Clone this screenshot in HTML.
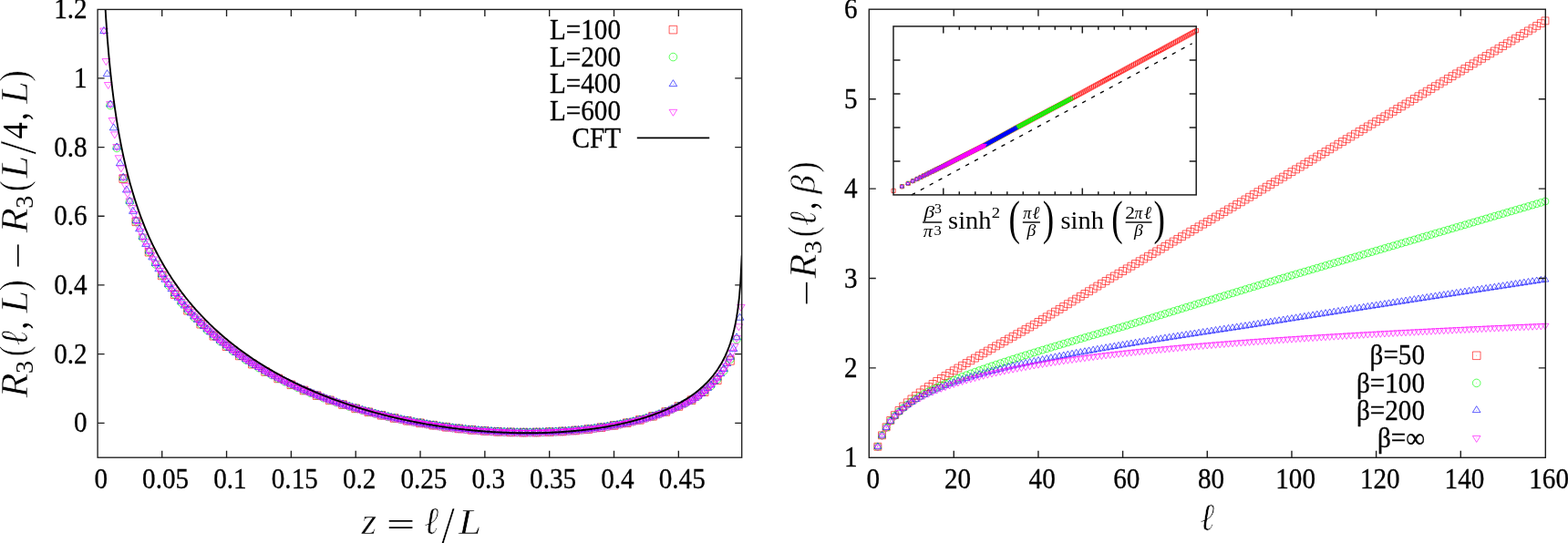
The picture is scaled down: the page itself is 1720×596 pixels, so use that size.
<!DOCTYPE html>
<html lang="en">
<head>
<meta charset="utf-8">
<title>R3 scaling plots</title>
<style>
html, body { margin: 0; padding: 0; background: #fff; }
body { width: 1720px; height: 596px; overflow: hidden; }
svg { display: block; }
</style>
</head>
<body>
<svg width="1720" height="596" viewBox="0 0 1720 596">
<rect width="1720" height="596" fill="#fff"/>
<clipPath id="cl"><rect x="107.1" y="10.4" width="706.6" height="491.8"/></clipPath>
<path d="M130.93 191.86h8.6v8.6h-8.6zM134.98 196.16h0.5M145.09 239.02h8.6v8.6h-8.6zM149.15 243.32h0.5M159.26 272.4h8.6v8.6h-8.6zM163.31 276.7h0.5M173.43 298.12h8.6v8.6h-8.6zM177.48 302.42h0.5M187.59 318.97h8.6v8.6h-8.6zM191.64 323.27h0.5M201.75 336.43h8.6v8.6h-8.6zM205.81 340.73h0.5M215.92 351.39h8.6v8.6h-8.6zM219.97 355.69h0.5M230.08 364.42h8.6v8.6h-8.6zM234.13 368.72h0.5M244.25 375.92h8.6v8.6h-8.6zM248.3 380.22h0.5M258.42 386.16h8.6v8.6h-8.6zM262.47 390.46h0.5M272.58 395.34h8.6v8.6h-8.6zM276.63 399.64h0.5M286.75 403.63h8.6v8.6h-8.6zM290.8 407.93h0.5M300.91 411.14h8.6v8.6h-8.6zM304.96 415.44h0.5M315.07 417.97h8.6v8.6h-8.6zM319.12 422.27h0.5M329.24 424.19h8.6v8.6h-8.6zM333.29 428.49h0.5M343.41 429.86h8.6v8.6h-8.6zM347.46 434.16h0.5M357.57 435.04h8.6v8.6h-8.6zM361.62 439.34h0.5M371.73 439.76h8.6v8.6h-8.6zM375.78 444.06h0.5M385.9 444.06h8.6v8.6h-8.6zM389.95 448.36h0.5M400.06 447.96h8.6v8.6h-8.6zM404.12 452.26h0.5M414.23 451.49h8.6v8.6h-8.6zM418.28 455.79h0.5M428.4 454.66h8.6v8.6h-8.6zM432.45 458.96h0.5M442.56 457.49h8.6v8.6h-8.6zM446.61 461.79h0.5M456.72 460h8.6v8.6h-8.6zM460.77 464.3h0.5M470.89 462.37h8.6v8.6h-8.6zM474.94 466.67h0.5M485.06 464.42h8.6v8.6h-8.6zM489.11 468.72h0.5M499.22 466.14h8.6v8.6h-8.6zM503.27 470.44h0.5M513.38 467.55h8.6v8.6h-8.6zM517.43 471.85h0.5M527.55 468.64h8.6v8.6h-8.6zM531.6 472.94h0.5M541.72 469.52h8.6v8.6h-8.6zM545.76 473.82h0.5M555.88 470.07h8.6v8.6h-8.6zM559.93 474.37h0.5M570.05 470.31h8.6v8.6h-8.6zM574.1 474.61h0.5M584.21 470.21h8.6v8.6h-8.6zM588.26 474.51h0.5M598.38 469.77h8.6v8.6h-8.6zM602.42 474.07h0.5M612.54 469.14h8.6v8.6h-8.6zM616.59 473.44h0.5M626.71 468.15h8.6v8.6h-8.6zM630.75 472.45h0.5M640.87 466.75h8.6v8.6h-8.6zM644.92 471.05h0.5M655.04 464.91h8.6v8.6h-8.6zM659.09 469.21h0.5M669.2 462.58h8.6v8.6h-8.6zM673.25 466.88h0.5M683.37 459.89h8.6v8.6h-8.6zM687.41 464.19h0.5M697.53 456.58h8.6v8.6h-8.6zM701.58 460.88h0.5M711.7 452.52h8.6v8.6h-8.6zM715.75 456.82h0.5M725.86 447.7h8.6v8.6h-8.6zM729.91 452h0.5M740.03 441.68h8.6v8.6h-8.6zM744.08 445.98h0.5M754.19 434.89h8.6v8.6h-8.6zM758.24 439.19h0.5M768.36 425.78h8.6v8.6h-8.6zM772.4 430.08h0.5M782.52 412.9h8.6v8.6h-8.6zM786.57 417.2h0.5M796.69 391.64h8.6v8.6h-8.6zM800.74 395.94h0.5" fill="none" stroke="#ff0000" stroke-width="0.64"/>
<path d="M116.77 115.6a4.3 4.3 0 1 0 8.6 0a4.3 4.3 0 1 0 -8.6 0zM120.82 115.6h0.5M123.85 162.48a4.3 4.3 0 1 0 8.6 0a4.3 4.3 0 1 0 -8.6 0zM127.9 162.48h0.5M130.93 195.81a4.3 4.3 0 1 0 8.6 0a4.3 4.3 0 1 0 -8.6 0zM134.98 195.81h0.5M138.01 221.77a4.3 4.3 0 1 0 8.6 0a4.3 4.3 0 1 0 -8.6 0zM142.06 221.77h0.5M145.09 242.99a4.3 4.3 0 1 0 8.6 0a4.3 4.3 0 1 0 -8.6 0zM149.15 242.99h0.5M152.18 260.91a4.3 4.3 0 1 0 8.6 0a4.3 4.3 0 1 0 -8.6 0zM156.23 260.91h0.5M159.26 276.38a4.3 4.3 0 1 0 8.6 0a4.3 4.3 0 1 0 -8.6 0zM163.31 276.38h0.5M166.34 289.99a4.3 4.3 0 1 0 8.6 0a4.3 4.3 0 1 0 -8.6 0zM170.39 289.99h0.5M173.43 302.12a4.3 4.3 0 1 0 8.6 0a4.3 4.3 0 1 0 -8.6 0zM177.48 302.12h0.5M180.51 313.05a4.3 4.3 0 1 0 8.6 0a4.3 4.3 0 1 0 -8.6 0zM184.56 313.05h0.5M187.59 322.98a4.3 4.3 0 1 0 8.6 0a4.3 4.3 0 1 0 -8.6 0zM191.64 322.98h0.5M194.67 332.08a4.3 4.3 0 1 0 8.6 0a4.3 4.3 0 1 0 -8.6 0zM198.72 332.08h0.5M201.75 340.45a4.3 4.3 0 1 0 8.6 0a4.3 4.3 0 1 0 -8.6 0zM205.81 340.45h0.5M208.84 348.21a4.3 4.3 0 1 0 8.6 0a4.3 4.3 0 1 0 -8.6 0zM212.89 348.21h0.5M215.92 355.43a4.3 4.3 0 1 0 8.6 0a4.3 4.3 0 1 0 -8.6 0zM219.97 355.43h0.5M223 362.17a4.3 4.3 0 1 0 8.6 0a4.3 4.3 0 1 0 -8.6 0zM227.05 362.17h0.5M230.08 368.48a4.3 4.3 0 1 0 8.6 0a4.3 4.3 0 1 0 -8.6 0zM234.13 368.48h0.5M237.17 374.41a4.3 4.3 0 1 0 8.6 0a4.3 4.3 0 1 0 -8.6 0zM241.22 374.41h0.5M244.25 379.99a4.3 4.3 0 1 0 8.6 0a4.3 4.3 0 1 0 -8.6 0zM248.3 379.99h0.5M251.33 385.26a4.3 4.3 0 1 0 8.6 0a4.3 4.3 0 1 0 -8.6 0zM255.38 385.26h0.5M258.42 390.24a4.3 4.3 0 1 0 8.6 0a4.3 4.3 0 1 0 -8.6 0zM262.47 390.24h0.5M265.5 394.97a4.3 4.3 0 1 0 8.6 0a4.3 4.3 0 1 0 -8.6 0zM269.55 394.97h0.5M272.58 399.45a4.3 4.3 0 1 0 8.6 0a4.3 4.3 0 1 0 -8.6 0zM276.63 399.45h0.5M279.66 403.7a4.3 4.3 0 1 0 8.6 0a4.3 4.3 0 1 0 -8.6 0zM283.71 403.7h0.5M286.75 407.75a4.3 4.3 0 1 0 8.6 0a4.3 4.3 0 1 0 -8.6 0zM290.8 407.75h0.5M293.83 411.6a4.3 4.3 0 1 0 8.6 0a4.3 4.3 0 1 0 -8.6 0zM297.88 411.6h0.5M300.91 415.28a4.3 4.3 0 1 0 8.6 0a4.3 4.3 0 1 0 -8.6 0zM304.96 415.28h0.5M307.99 418.78a4.3 4.3 0 1 0 8.6 0a4.3 4.3 0 1 0 -8.6 0zM312.04 418.78h0.5M315.07 422.12a4.3 4.3 0 1 0 8.6 0a4.3 4.3 0 1 0 -8.6 0zM319.12 422.12h0.5M322.16 425.31a4.3 4.3 0 1 0 8.6 0a4.3 4.3 0 1 0 -8.6 0zM326.21 425.31h0.5M329.24 428.35a4.3 4.3 0 1 0 8.6 0a4.3 4.3 0 1 0 -8.6 0zM333.29 428.35h0.5M336.32 431.26a4.3 4.3 0 1 0 8.6 0a4.3 4.3 0 1 0 -8.6 0zM340.37 431.26h0.5M343.41 434.04a4.3 4.3 0 1 0 8.6 0a4.3 4.3 0 1 0 -8.6 0zM347.46 434.04h0.5M350.49 436.7a4.3 4.3 0 1 0 8.6 0a4.3 4.3 0 1 0 -8.6 0zM354.54 436.7h0.5M357.57 439.23a4.3 4.3 0 1 0 8.6 0a4.3 4.3 0 1 0 -8.6 0zM361.62 439.23h0.5M364.65 441.66a4.3 4.3 0 1 0 8.6 0a4.3 4.3 0 1 0 -8.6 0zM368.7 441.66h0.5M371.73 443.97a4.3 4.3 0 1 0 8.6 0a4.3 4.3 0 1 0 -8.6 0zM375.78 443.97h0.5M378.82 446.18a4.3 4.3 0 1 0 8.6 0a4.3 4.3 0 1 0 -8.6 0zM382.87 446.18h0.5M385.9 448.28a4.3 4.3 0 1 0 8.6 0a4.3 4.3 0 1 0 -8.6 0zM389.95 448.28h0.5M392.98 450.29a4.3 4.3 0 1 0 8.6 0a4.3 4.3 0 1 0 -8.6 0zM397.03 450.29h0.5M400.06 452.2a4.3 4.3 0 1 0 8.6 0a4.3 4.3 0 1 0 -8.6 0zM404.12 452.2h0.5M407.15 454.01a4.3 4.3 0 1 0 8.6 0a4.3 4.3 0 1 0 -8.6 0zM411.2 454.01h0.5M414.23 455.74a4.3 4.3 0 1 0 8.6 0a4.3 4.3 0 1 0 -8.6 0zM418.28 455.74h0.5M421.31 457.38a4.3 4.3 0 1 0 8.6 0a4.3 4.3 0 1 0 -8.6 0zM425.36 457.38h0.5M428.4 458.93a4.3 4.3 0 1 0 8.6 0a4.3 4.3 0 1 0 -8.6 0zM432.45 458.93h0.5M435.48 460.39a4.3 4.3 0 1 0 8.6 0a4.3 4.3 0 1 0 -8.6 0zM439.53 460.39h0.5M442.56 461.78a4.3 4.3 0 1 0 8.6 0a4.3 4.3 0 1 0 -8.6 0zM446.61 461.78h0.5M449.64 463.08a4.3 4.3 0 1 0 8.6 0a4.3 4.3 0 1 0 -8.6 0zM453.69 463.08h0.5M456.72 464.3a4.3 4.3 0 1 0 8.6 0a4.3 4.3 0 1 0 -8.6 0zM460.77 464.3h0.5M463.81 465.53a4.3 4.3 0 1 0 8.6 0a4.3 4.3 0 1 0 -8.6 0zM467.86 465.53h0.5M470.89 466.67a4.3 4.3 0 1 0 8.6 0a4.3 4.3 0 1 0 -8.6 0zM474.94 466.67h0.5M477.97 467.74a4.3 4.3 0 1 0 8.6 0a4.3 4.3 0 1 0 -8.6 0zM482.02 467.74h0.5M485.06 468.72a4.3 4.3 0 1 0 8.6 0a4.3 4.3 0 1 0 -8.6 0zM489.11 468.72h0.5M492.14 469.62a4.3 4.3 0 1 0 8.6 0a4.3 4.3 0 1 0 -8.6 0zM496.19 469.62h0.5M499.22 470.44a4.3 4.3 0 1 0 8.6 0a4.3 4.3 0 1 0 -8.6 0zM503.27 470.44h0.5M506.3 471.19a4.3 4.3 0 1 0 8.6 0a4.3 4.3 0 1 0 -8.6 0zM510.35 471.19h0.5M513.38 471.85a4.3 4.3 0 1 0 8.6 0a4.3 4.3 0 1 0 -8.6 0zM517.43 471.85h0.5M520.47 472.44a4.3 4.3 0 1 0 8.6 0a4.3 4.3 0 1 0 -8.6 0zM524.52 472.44h0.5M527.55 472.94a4.3 4.3 0 1 0 8.6 0a4.3 4.3 0 1 0 -8.6 0zM531.6 472.94h0.5M534.63 473.42a4.3 4.3 0 1 0 8.6 0a4.3 4.3 0 1 0 -8.6 0zM538.68 473.42h0.5M541.72 473.82a4.3 4.3 0 1 0 8.6 0a4.3 4.3 0 1 0 -8.6 0zM545.76 473.82h0.5M548.8 474.13a4.3 4.3 0 1 0 8.6 0a4.3 4.3 0 1 0 -8.6 0zM552.85 474.13h0.5M555.88 474.37a4.3 4.3 0 1 0 8.6 0a4.3 4.3 0 1 0 -8.6 0zM559.93 474.37h0.5M562.96 474.53a4.3 4.3 0 1 0 8.6 0a4.3 4.3 0 1 0 -8.6 0zM567.01 474.53h0.5M570.05 474.61a4.3 4.3 0 1 0 8.6 0a4.3 4.3 0 1 0 -8.6 0zM574.1 474.61h0.5M577.13 474.6a4.3 4.3 0 1 0 8.6 0a4.3 4.3 0 1 0 -8.6 0zM581.18 474.6h0.5M584.21 474.51a4.3 4.3 0 1 0 8.6 0a4.3 4.3 0 1 0 -8.6 0zM588.26 474.51h0.5M591.29 474.34a4.3 4.3 0 1 0 8.6 0a4.3 4.3 0 1 0 -8.6 0zM595.34 474.34h0.5M598.38 474.07a4.3 4.3 0 1 0 8.6 0a4.3 4.3 0 1 0 -8.6 0zM602.42 474.07h0.5M605.46 473.8a4.3 4.3 0 1 0 8.6 0a4.3 4.3 0 1 0 -8.6 0zM609.51 473.8h0.5M612.54 473.44a4.3 4.3 0 1 0 8.6 0a4.3 4.3 0 1 0 -8.6 0zM616.59 473.44h0.5M619.62 472.99a4.3 4.3 0 1 0 8.6 0a4.3 4.3 0 1 0 -8.6 0zM623.67 472.99h0.5M626.71 472.45a4.3 4.3 0 1 0 8.6 0a4.3 4.3 0 1 0 -8.6 0zM630.75 472.45h0.5M633.79 471.8a4.3 4.3 0 1 0 8.6 0a4.3 4.3 0 1 0 -8.6 0zM637.84 471.8h0.5M640.87 471.05a4.3 4.3 0 1 0 8.6 0a4.3 4.3 0 1 0 -8.6 0zM644.92 471.05h0.5M647.95 470.18a4.3 4.3 0 1 0 8.6 0a4.3 4.3 0 1 0 -8.6 0zM652 470.18h0.5M655.04 469.21a4.3 4.3 0 1 0 8.6 0a4.3 4.3 0 1 0 -8.6 0zM659.09 469.21h0.5M662.12 468.11a4.3 4.3 0 1 0 8.6 0a4.3 4.3 0 1 0 -8.6 0zM666.17 468.11h0.5M669.2 466.88a4.3 4.3 0 1 0 8.6 0a4.3 4.3 0 1 0 -8.6 0zM673.25 466.88h0.5M676.28 465.61a4.3 4.3 0 1 0 8.6 0a4.3 4.3 0 1 0 -8.6 0zM680.33 465.61h0.5M683.37 464.19a4.3 4.3 0 1 0 8.6 0a4.3 4.3 0 1 0 -8.6 0zM687.41 464.19h0.5M690.45 462.62a4.3 4.3 0 1 0 8.6 0a4.3 4.3 0 1 0 -8.6 0zM694.5 462.62h0.5M697.53 460.88a4.3 4.3 0 1 0 8.6 0a4.3 4.3 0 1 0 -8.6 0zM701.58 460.88h0.5M704.61 458.95a4.3 4.3 0 1 0 8.6 0a4.3 4.3 0 1 0 -8.6 0zM708.66 458.95h0.5M711.7 456.82a4.3 4.3 0 1 0 8.6 0a4.3 4.3 0 1 0 -8.6 0zM715.75 456.82h0.5M718.78 454.54a4.3 4.3 0 1 0 8.6 0a4.3 4.3 0 1 0 -8.6 0zM722.83 454.54h0.5M725.86 452a4.3 4.3 0 1 0 8.6 0a4.3 4.3 0 1 0 -8.6 0zM729.91 452h0.5M732.94 449.16a4.3 4.3 0 1 0 8.6 0a4.3 4.3 0 1 0 -8.6 0zM736.99 449.16h0.5M740.03 445.98a4.3 4.3 0 1 0 8.6 0a4.3 4.3 0 1 0 -8.6 0zM744.08 445.98h0.5M747.11 442.81a4.3 4.3 0 1 0 8.6 0a4.3 4.3 0 1 0 -8.6 0zM751.16 442.81h0.5M754.19 439.19a4.3 4.3 0 1 0 8.6 0a4.3 4.3 0 1 0 -8.6 0zM758.24 439.19h0.5M761.27 435a4.3 4.3 0 1 0 8.6 0a4.3 4.3 0 1 0 -8.6 0zM765.32 435h0.5M768.36 429.7a4.3 4.3 0 1 0 8.6 0a4.3 4.3 0 1 0 -8.6 0zM772.4 429.7h0.5M775.44 423.56a4.3 4.3 0 1 0 8.6 0a4.3 4.3 0 1 0 -8.6 0zM779.49 423.56h0.5M782.52 416.06a4.3 4.3 0 1 0 8.6 0a4.3 4.3 0 1 0 -8.6 0zM786.57 416.06h0.5M789.6 406.9a4.3 4.3 0 1 0 8.6 0a4.3 4.3 0 1 0 -8.6 0zM793.65 406.9h0.5M796.69 394.05a4.3 4.3 0 1 0 8.6 0a4.3 4.3 0 1 0 -8.6 0zM800.74 394.05h0.5M803.77 372.53a4.3 4.3 0 1 0 8.6 0a4.3 4.3 0 1 0 -8.6 0zM807.82 372.53h0.5" fill="none" stroke="#00ff00" stroke-width="0.64"/>
<path d="M113.98 29.47l-4.3 6.97h8.6zM113.73 34.28h0.5M117.52 76.7l-4.3 6.97h8.6zM117.27 81.52h0.5M121.07 110.06l-4.3 6.97h8.6zM120.82 114.88h0.5M124.61 135.87l-4.3 6.97h8.6zM124.36 140.68h0.5M128.15 156.95l-4.3 6.97h8.6zM127.9 161.77h0.5M131.69 174.8l-4.3 6.97h8.6zM131.44 179.62h0.5M135.23 190.3l-4.3 6.97h8.6zM134.98 195.12h0.5M138.77 204l-4.3 6.97h8.6zM138.52 208.82h0.5M142.31 216.27l-4.3 6.97h8.6zM142.06 221.09h0.5M145.85 227.37l-4.3 6.97h8.6zM145.6 232.19h0.5M149.4 237.51l-4.3 6.97h8.6zM149.15 242.33h0.5M152.94 246.82l-4.3 6.97h8.6zM152.69 251.64h0.5M156.48 255.44l-4.3 6.97h8.6zM156.23 260.26h0.5M160.02 263.45l-4.3 6.97h8.6zM159.77 268.27h0.5M163.56 270.93l-4.3 6.97h8.6zM163.31 275.75h0.5M167.1 277.95l-4.3 6.97h8.6zM166.85 282.77h0.5M170.64 284.55l-4.3 6.97h8.6zM170.39 289.37h0.5M174.18 290.79l-4.3 6.97h8.6zM173.93 295.61h0.5M177.73 296.7l-4.3 6.97h8.6zM177.48 301.51h0.5M181.27 302.3l-4.3 6.97h8.6zM181.02 307.12h0.5M184.81 307.64l-4.3 6.97h8.6zM184.56 312.46h0.5M188.35 312.73l-4.3 6.97h8.6zM188.1 317.54h0.5M191.89 317.59l-4.3 6.97h8.6zM191.64 322.4h0.5M195.43 322.24l-4.3 6.97h8.6zM195.18 327.06h0.5M198.97 326.7l-4.3 6.97h8.6zM198.72 331.52h0.5M202.51 330.98l-4.3 6.97h8.6zM202.26 335.8h0.5M206.06 335.09l-4.3 6.97h8.6zM205.81 339.91h0.5M209.6 339.05l-4.3 6.97h8.6zM209.35 343.87h0.5M213.14 342.87l-4.3 6.97h8.6zM212.89 347.68h0.5M216.68 346.55l-4.3 6.97h8.6zM216.43 351.36h0.5M220.22 350.1l-4.3 6.97h8.6zM219.97 354.91h0.5M223.76 353.53l-4.3 6.97h8.6zM223.51 358.35h0.5M227.3 356.85l-4.3 6.97h8.6zM227.05 361.67h0.5M230.84 360.06l-4.3 6.97h8.6zM230.59 364.88h0.5M234.38 363.18l-4.3 6.97h8.6zM234.13 367.99h0.5M237.93 366.19l-4.3 6.97h8.6zM237.68 371.01h0.5M241.47 369.12l-4.3 6.97h8.6zM241.22 373.94h0.5M245.01 371.96l-4.3 6.97h8.6zM244.76 376.78h0.5M248.55 374.72l-4.3 6.97h8.6zM248.3 379.54h0.5M252.09 377.4l-4.3 6.97h8.6zM251.84 382.22h0.5M255.63 380.01l-4.3 6.97h8.6zM255.38 384.82h0.5M259.17 382.54l-4.3 6.97h8.6zM258.92 387.36h0.5M262.72 385l-4.3 6.97h8.6zM262.47 389.82h0.5M266.26 387.4l-4.3 6.97h8.6zM266.01 392.22h0.5M269.8 389.74l-4.3 6.97h8.6zM269.55 394.56h0.5M273.34 392.02l-4.3 6.97h8.6zM273.09 396.83h0.5M276.88 394.24l-4.3 6.97h8.6zM276.63 399.05h0.5M280.42 396.4l-4.3 6.97h8.6zM280.17 401.21h0.5M283.96 398.51l-4.3 6.97h8.6zM283.71 403.32h0.5M287.5 400.56l-4.3 6.97h8.6zM287.25 405.38h0.5M291.05 402.57l-4.3 6.97h8.6zM290.8 407.39h0.5M294.59 404.53l-4.3 6.97h8.6zM294.34 409.34h0.5M298.13 406.44l-4.3 6.97h8.6zM297.88 411.26h0.5M301.67 408.31l-4.3 6.97h8.6zM301.42 413.12h0.5M305.21 410.13l-4.3 6.97h8.6zM304.96 414.94h0.5M308.75 411.91l-4.3 6.97h8.6zM308.5 416.72h0.5M312.29 413.64l-4.3 6.97h8.6zM312.04 418.46h0.5M315.83 415.34l-4.3 6.97h8.6zM315.58 420.16h0.5M319.38 417l-4.3 6.97h8.6zM319.12 421.82h0.5M322.92 418.62l-4.3 6.97h8.6zM322.67 423.44h0.5M326.46 420.21l-4.3 6.97h8.6zM326.21 425.02h0.5M330 421.75l-4.3 6.97h8.6zM329.75 426.57h0.5M333.54 423.27l-4.3 6.97h8.6zM333.29 428.08h0.5M337.08 424.74l-4.3 6.97h8.6zM336.83 429.56h0.5M340.62 426.19l-4.3 6.97h8.6zM340.37 431.01h0.5M344.16 427.6l-4.3 6.97h8.6zM343.91 432.42h0.5M347.71 428.98l-4.3 6.97h8.6zM347.46 433.8h0.5M351.25 430.34l-4.3 6.97h8.6zM351 435.15h0.5M354.79 431.65l-4.3 6.97h8.6zM354.54 436.47h0.5M358.33 432.95l-4.3 6.97h8.6zM358.08 437.76h0.5M361.87 434.21l-4.3 6.97h8.6zM361.62 439.02h0.5M365.41 435.44l-4.3 6.97h8.6zM365.16 440.25h0.5M368.95 436.64l-4.3 6.97h8.6zM368.7 441.46h0.5M372.49 437.82l-4.3 6.97h8.6zM372.24 442.64h0.5M376.03 438.97l-4.3 6.97h8.6zM375.78 443.79h0.5M379.58 440.1l-4.3 6.97h8.6zM379.33 444.91h0.5M383.12 441.19l-4.3 6.97h8.6zM382.87 446.01h0.5M386.66 442.27l-4.3 6.97h8.6zM386.41 447.08h0.5M390.2 443.31l-4.3 6.97h8.6zM389.95 448.13h0.5M393.74 444.34l-4.3 6.97h8.6zM393.49 449.15h0.5M397.28 445.33l-4.3 6.97h8.6zM397.03 450.15h0.5M400.82 446.31l-4.3 6.97h8.6zM400.57 451.12h0.5M404.37 447.26l-4.3 6.97h8.6zM404.12 452.08h0.5M407.91 448.19l-4.3 6.97h8.6zM407.66 453h0.5M411.45 449.09l-4.3 6.97h8.6zM411.2 453.91h0.5M414.99 449.97l-4.3 6.97h8.6zM414.74 454.79h0.5M418.53 450.83l-4.3 6.97h8.6zM418.28 455.65h0.5M422.07 451.67l-4.3 6.97h8.6zM421.82 456.49h0.5M425.61 452.49l-4.3 6.97h8.6zM425.36 457.3h0.5M429.15 453.28l-4.3 6.97h8.6zM428.9 458.1h0.5M432.7 454.05l-4.3 6.97h8.6zM432.45 458.87h0.5M436.24 454.8l-4.3 6.97h8.6zM435.99 459.62h0.5M439.78 455.53l-4.3 6.97h8.6zM439.53 460.35h0.5M443.32 456.24l-4.3 6.97h8.6zM443.07 461.06h0.5M446.86 456.93l-4.3 6.97h8.6zM446.61 461.75h0.5M450.4 457.6l-4.3 6.97h8.6zM450.15 462.42h0.5M453.94 458.25l-4.3 6.97h8.6zM453.69 463.06h0.5M457.48 458.88l-4.3 6.97h8.6zM457.23 463.69h0.5M461.02 459.48l-4.3 6.97h8.6zM460.77 464.3h0.5M464.57 460.11l-4.3 6.97h8.6zM464.32 464.92h0.5M468.11 460.71l-4.3 6.97h8.6zM467.86 465.53h0.5M471.65 461.3l-4.3 6.97h8.6zM471.4 466.11h0.5M475.19 461.86l-4.3 6.97h8.6zM474.94 466.67h0.5M478.73 462.4l-4.3 6.97h8.6zM478.48 467.22h0.5M482.27 462.92l-4.3 6.97h8.6zM482.02 467.74h0.5M485.81 463.42l-4.3 6.97h8.6zM485.56 468.24h0.5M489.36 463.9l-4.3 6.97h8.6zM489.11 468.72h0.5M492.9 464.36l-4.3 6.97h8.6zM492.65 469.18h0.5M496.44 464.81l-4.3 6.97h8.6zM496.19 469.62h0.5M499.98 465.23l-4.3 6.97h8.6zM499.73 470.04h0.5M503.52 465.63l-4.3 6.97h8.6zM503.27 470.44h0.5M507.06 466.01l-4.3 6.97h8.6zM506.81 470.83h0.5M510.6 466.37l-4.3 6.97h8.6zM510.35 471.19h0.5M514.14 466.71l-4.3 6.97h8.6zM513.89 471.53h0.5M517.68 467.04l-4.3 6.97h8.6zM517.43 471.85h0.5M521.23 467.34l-4.3 6.97h8.6zM520.98 472.15h0.5M524.77 467.62l-4.3 6.97h8.6zM524.52 472.44h0.5M528.31 467.88l-4.3 6.97h8.6zM528.06 472.7h0.5M531.85 468.13l-4.3 6.97h8.6zM531.6 472.94h0.5M535.39 468.38l-4.3 6.97h8.6zM535.14 473.19h0.5M538.93 468.6l-4.3 6.97h8.6zM538.68 473.42h0.5M542.47 468.81l-4.3 6.97h8.6zM542.22 473.63h0.5M546.01 469l-4.3 6.97h8.6zM545.76 473.82h0.5M549.56 469.17l-4.3 6.97h8.6zM549.31 473.98h0.5M553.1 469.32l-4.3 6.97h8.6zM552.85 474.13h0.5M556.64 469.45l-4.3 6.97h8.6zM556.39 474.26h0.5M560.18 469.56l-4.3 6.97h8.6zM559.93 474.37h0.5M563.72 469.65l-4.3 6.97h8.6zM563.47 474.46h0.5M567.26 469.71l-4.3 6.97h8.6zM567.01 474.53h0.5M570.8 469.76l-4.3 6.97h8.6zM570.55 474.58h0.5M574.35 469.79l-4.3 6.97h8.6zM574.1 474.61h0.5M577.89 469.8l-4.3 6.97h8.6zM577.64 474.61h0.5M581.43 469.79l-4.3 6.97h8.6zM581.18 474.6h0.5M584.97 469.75l-4.3 6.97h8.6zM584.72 474.57h0.5M588.51 469.7l-4.3 6.97h8.6zM588.26 474.51h0.5M592.05 469.62l-4.3 6.97h8.6zM591.8 474.43h0.5M595.59 469.52l-4.3 6.97h8.6zM595.34 474.34h0.5M599.13 469.4l-4.3 6.97h8.6zM598.88 474.21h0.5M602.67 469.26l-4.3 6.97h8.6zM602.42 474.07h0.5M606.22 469.13l-4.3 6.97h8.6zM605.97 473.95h0.5M609.76 468.99l-4.3 6.97h8.6zM609.51 473.8h0.5M613.3 468.82l-4.3 6.97h8.6zM613.05 473.63h0.5M616.84 468.63l-4.3 6.97h8.6zM616.59 473.44h0.5M620.38 468.41l-4.3 6.97h8.6zM620.13 473.23h0.5M623.92 468.18l-4.3 6.97h8.6zM623.67 472.99h0.5M627.46 467.92l-4.3 6.97h8.6zM627.21 472.73h0.5M631 467.63l-4.3 6.97h8.6zM630.75 472.45h0.5M634.55 467.32l-4.3 6.97h8.6zM634.3 472.13h0.5M638.09 466.98l-4.3 6.97h8.6zM637.84 471.8h0.5M641.63 466.62l-4.3 6.97h8.6zM641.38 471.43h0.5M645.17 466.23l-4.3 6.97h8.6zM644.92 471.05h0.5M648.71 465.81l-4.3 6.97h8.6zM648.46 470.63h0.5M652.25 465.37l-4.3 6.97h8.6zM652 470.18h0.5M655.79 464.89l-4.3 6.97h8.6zM655.54 469.71h0.5M659.34 464.39l-4.3 6.97h8.6zM659.09 469.21h0.5M662.88 463.86l-4.3 6.97h8.6zM662.63 468.67h0.5M666.42 463.29l-4.3 6.97h8.6zM666.17 468.11h0.5M669.96 462.7l-4.3 6.97h8.6zM669.71 467.51h0.5M673.5 462.07l-4.3 6.97h8.6zM673.25 466.88h0.5M677.04 461.45l-4.3 6.97h8.6zM676.79 466.26h0.5M680.58 460.79l-4.3 6.97h8.6zM680.33 465.61h0.5M684.12 460.1l-4.3 6.97h8.6zM683.87 464.92h0.5M687.66 459.38l-4.3 6.97h8.6zM687.41 464.19h0.5M691.21 458.61l-4.3 6.97h8.6zM690.96 463.43h0.5M694.75 457.81l-4.3 6.97h8.6zM694.5 462.62h0.5M698.29 456.96l-4.3 6.97h8.6zM698.04 461.77h0.5M701.83 456.07l-4.3 6.97h8.6zM701.58 460.88h0.5M705.37 455.13l-4.3 6.97h8.6zM705.12 459.94h0.5M708.91 454.14l-4.3 6.97h8.6zM708.66 458.95h0.5M712.45 453.1l-4.3 6.97h8.6zM712.2 457.91h0.5M716 452l-4.3 6.97h8.6zM715.75 456.82h0.5M719.54 450.89l-4.3 6.97h8.6zM719.29 455.71h0.5M723.08 449.72l-4.3 6.97h8.6zM722.83 454.54h0.5M726.62 448.49l-4.3 6.97h8.6zM726.37 453.31h0.5M730.16 447.19l-4.3 6.97h8.6zM729.91 452h0.5M733.7 445.81l-4.3 6.97h8.6zM733.45 450.62h0.5M737.24 444.35l-4.3 6.97h8.6zM736.99 449.16h0.5M740.78 442.8l-4.3 6.97h8.6zM740.53 447.62h0.5M744.33 441.16l-4.3 6.97h8.6zM744.08 445.98h0.5M747.87 439.63l-4.3 6.97h8.6zM747.62 444.44h0.5M751.41 437.99l-4.3 6.97h8.6zM751.16 442.81h0.5M754.95 436.24l-4.3 6.97h8.6zM754.7 441.06h0.5M758.49 434.37l-4.3 6.97h8.6zM758.24 439.19h0.5M762.03 432.36l-4.3 6.97h8.6zM761.78 437.17h0.5M765.57 430.18l-4.3 6.97h8.6zM765.32 435h0.5M769.11 427.45l-4.3 6.97h8.6zM768.86 432.26h0.5M772.65 424.5l-4.3 6.97h8.6zM772.4 429.32h0.5M776.2 421.39l-4.3 6.97h8.6zM775.95 426.2h0.5M779.74 417.99l-4.3 6.97h8.6zM779.49 422.81h0.5M783.28 414.26l-4.3 6.97h8.6zM783.03 419.07h0.5M786.82 410.11l-4.3 6.97h8.6zM786.57 414.93h0.5M790.36 405.66l-4.3 6.97h8.6zM790.11 410.48h0.5M793.9 400.57l-4.3 6.97h8.6zM793.65 405.38h0.5M797.44 394.59l-4.3 6.97h8.6zM797.19 399.41h0.5M800.99 387.34l-4.3 6.97h8.6zM800.74 392.16h0.5M804.53 378.42l-4.3 6.97h8.6zM804.28 383.24h0.5M808.07 365.82l-4.3 6.97h8.6zM807.82 370.64h0.5M811.61 344.26l-4.3 6.97h8.6zM811.36 349.08h0.5" fill="none" stroke="#0000ff" stroke-width="0.64"/>
<path d="M113.98 37.99l-4.3 -6.97h8.6zM113.73 33.17h0.5M116.34 71.53l-4.3 -6.97h8.6zM116.09 66.72h0.5M118.7 97.47l-4.3 -6.97h8.6zM118.45 92.65h0.5M121.07 118.6l-4.3 -6.97h8.6zM120.82 113.79h0.5M123.43 136.44l-4.3 -6.97h8.6zM123.18 131.63h0.5M125.79 151.89l-4.3 -6.97h8.6zM125.54 147.07h0.5M128.15 165.51l-4.3 -6.97h8.6zM127.9 160.7h0.5M130.51 177.72l-4.3 -6.97h8.6zM130.26 172.9h0.5M132.87 188.78l-4.3 -6.97h8.6zM132.62 183.96h0.5M135.23 198.89l-4.3 -6.97h8.6zM134.98 194.07h0.5M137.59 208.2l-4.3 -6.97h8.6zM137.34 203.39h0.5M139.95 216.84l-4.3 -6.97h8.6zM139.7 212.02h0.5M142.31 224.88l-4.3 -6.97h8.6zM142.06 220.06h0.5M144.67 232.41l-4.3 -6.97h8.6zM144.42 227.59h0.5M147.03 239.48l-4.3 -6.97h8.6zM146.78 234.66h0.5M149.4 246.14l-4.3 -6.97h8.6zM149.15 241.33h0.5M151.76 252.44l-4.3 -6.97h8.6zM151.51 247.63h0.5M154.12 258.42l-4.3 -6.97h8.6zM153.87 253.6h0.5M156.48 264.1l-4.3 -6.97h8.6zM156.23 259.28h0.5M158.84 269.51l-4.3 -6.97h8.6zM158.59 264.69h0.5M161.2 274.67l-4.3 -6.97h8.6zM160.95 269.85h0.5M163.56 279.61l-4.3 -6.97h8.6zM163.31 274.79h0.5M165.92 284.34l-4.3 -6.97h8.6zM165.67 279.53h0.5M168.28 288.89l-4.3 -6.97h8.6zM168.03 284.07h0.5M170.64 293.26l-4.3 -6.97h8.6zM170.39 288.44h0.5M173 297.46l-4.3 -6.97h8.6zM172.75 292.64h0.5M175.36 301.51l-4.3 -6.97h8.6zM175.11 296.7h0.5M177.73 305.42l-4.3 -6.97h8.6zM177.48 300.61h0.5M180.09 309.2l-4.3 -6.97h8.6zM179.84 304.38h0.5M182.45 312.85l-4.3 -6.97h8.6zM182.2 308.04h0.5M184.81 316.39l-4.3 -6.97h8.6zM184.56 311.57h0.5M187.17 319.81l-4.3 -6.97h8.6zM186.92 315h0.5M189.53 323.13l-4.3 -6.97h8.6zM189.28 318.32h0.5M191.89 326.36l-4.3 -6.97h8.6zM191.64 321.54h0.5M194.25 329.49l-4.3 -6.97h8.6zM194 324.67h0.5M196.61 332.53l-4.3 -6.97h8.6zM196.36 327.72h0.5M198.97 335.49l-4.3 -6.97h8.6zM198.72 330.68h0.5M201.33 338.37l-4.3 -6.97h8.6zM201.08 333.56h0.5M203.69 341.18l-4.3 -6.97h8.6zM203.44 336.36h0.5M206.06 343.91l-4.3 -6.97h8.6zM205.81 339.09h0.5M208.42 346.57l-4.3 -6.97h8.6zM208.17 341.76h0.5M210.78 349.17l-4.3 -6.97h8.6zM210.53 344.35h0.5M213.14 351.7l-4.3 -6.97h8.6zM212.89 346.89h0.5M215.5 354.18l-4.3 -6.97h8.6zM215.25 349.36h0.5M217.86 356.6l-4.3 -6.97h8.6zM217.61 351.78h0.5M220.22 358.96l-4.3 -6.97h8.6zM219.97 354.14h0.5M222.58 361.27l-4.3 -6.97h8.6zM222.33 356.45h0.5M224.94 363.53l-4.3 -6.97h8.6zM224.69 358.71h0.5M227.3 365.73l-4.3 -6.97h8.6zM227.05 360.92h0.5M229.66 367.9l-4.3 -6.97h8.6zM229.41 363.08h0.5M232.02 370.01l-4.3 -6.97h8.6zM231.77 365.2h0.5M234.38 372.08l-4.3 -6.97h8.6zM234.13 367.27h0.5M236.75 374.11l-4.3 -6.97h8.6zM236.5 369.3h0.5M239.11 376.1l-4.3 -6.97h8.6zM238.86 371.28h0.5M241.47 378.05l-4.3 -6.97h8.6zM241.22 373.23h0.5M243.83 379.96l-4.3 -6.97h8.6zM243.58 375.14h0.5M246.19 381.83l-4.3 -6.97h8.6zM245.94 377.02h0.5M248.55 383.67l-4.3 -6.97h8.6zM248.3 378.85h0.5M250.91 385.47l-4.3 -6.97h8.6zM250.66 380.66h0.5M253.27 387.24l-4.3 -6.97h8.6zM253.02 382.43h0.5M255.63 388.98l-4.3 -6.97h8.6zM255.38 384.16h0.5M257.99 390.68l-4.3 -6.97h8.6zM257.74 385.87h0.5M260.35 392.36l-4.3 -6.97h8.6zM260.1 387.54h0.5M262.72 394l-4.3 -6.97h8.6zM262.47 389.18h0.5M265.08 395.62l-4.3 -6.97h8.6zM264.83 390.8h0.5M267.44 397.2l-4.3 -6.97h8.6zM267.19 392.39h0.5M269.8 398.76l-4.3 -6.97h8.6zM269.55 393.94h0.5M272.16 400.29l-4.3 -6.97h8.6zM271.91 395.48h0.5M274.52 401.8l-4.3 -6.97h8.6zM274.27 396.98h0.5M276.88 403.28l-4.3 -6.97h8.6zM276.63 398.46h0.5M279.24 404.73l-4.3 -6.97h8.6zM278.99 399.92h0.5M281.6 406.16l-4.3 -6.97h8.6zM281.35 401.35h0.5M283.96 407.57l-4.3 -6.97h8.6zM283.71 402.76h0.5M286.32 408.96l-4.3 -6.97h8.6zM286.07 404.14h0.5M288.68 410.32l-4.3 -6.97h8.6zM288.43 405.5h0.5M291.05 411.66l-4.3 -6.97h8.6zM290.8 406.84h0.5M293.41 412.98l-4.3 -6.97h8.6zM293.16 408.16h0.5M295.77 414.27l-4.3 -6.97h8.6zM295.52 409.46h0.5M298.13 415.55l-4.3 -6.97h8.6zM297.88 410.73h0.5M300.49 416.81l-4.3 -6.97h8.6zM300.24 411.99h0.5M302.85 418.04l-4.3 -6.97h8.6zM302.6 413.23h0.5M305.21 419.26l-4.3 -6.97h8.6zM304.96 414.44h0.5M307.57 420.46l-4.3 -6.97h8.6zM307.32 415.64h0.5M309.93 421.64l-4.3 -6.97h8.6zM309.68 416.82h0.5M312.29 422.8l-4.3 -6.97h8.6zM312.04 417.98h0.5M314.65 423.94l-4.3 -6.97h8.6zM314.4 419.13h0.5M317.01 425.07l-4.3 -6.97h8.6zM316.76 420.25h0.5M319.38 426.18l-4.3 -6.97h8.6zM319.12 421.36h0.5M321.74 427.27l-4.3 -6.97h8.6zM321.49 422.45h0.5M324.1 428.35l-4.3 -6.97h8.6zM323.85 423.53h0.5M326.46 429.41l-4.3 -6.97h8.6zM326.21 424.59h0.5M328.82 430.45l-4.3 -6.97h8.6zM328.57 425.63h0.5M331.18 431.48l-4.3 -6.97h8.6zM330.93 426.66h0.5M333.54 432.49l-4.3 -6.97h8.6zM333.29 427.67h0.5M335.9 433.49l-4.3 -6.97h8.6zM335.65 428.67h0.5M338.26 434.47l-4.3 -6.97h8.6zM338.01 429.65h0.5M340.62 435.44l-4.3 -6.97h8.6zM340.37 430.62h0.5M342.98 436.39l-4.3 -6.97h8.6zM342.73 431.57h0.5M345.34 437.33l-4.3 -6.97h8.6zM345.09 432.51h0.5M347.71 438.25l-4.3 -6.97h8.6zM347.46 433.44h0.5M350.07 439.16l-4.3 -6.97h8.6zM349.82 434.35h0.5M352.43 440.06l-4.3 -6.97h8.6zM352.18 435.25h0.5M354.79 440.95l-4.3 -6.97h8.6zM354.54 436.13h0.5M357.15 441.82l-4.3 -6.97h8.6zM356.9 437h0.5M359.51 442.68l-4.3 -6.97h8.6zM359.26 437.86h0.5M361.87 443.52l-4.3 -6.97h8.6zM361.62 438.7h0.5M364.23 444.35l-4.3 -6.97h8.6zM363.98 439.54h0.5M366.59 445.17l-4.3 -6.97h8.6zM366.34 440.36h0.5M368.95 445.98l-4.3 -6.97h8.6zM368.7 441.16h0.5M371.31 446.78l-4.3 -6.97h8.6zM371.06 441.96h0.5M373.67 447.56l-4.3 -6.97h8.6zM373.42 442.74h0.5M376.03 448.33l-4.3 -6.97h8.6zM375.78 443.51h0.5M378.4 449.09l-4.3 -6.97h8.6zM378.15 444.27h0.5M380.76 449.84l-4.3 -6.97h8.6zM380.51 445.02h0.5M383.12 450.58l-4.3 -6.97h8.6zM382.87 445.76h0.5M385.48 451.3l-4.3 -6.97h8.6zM385.23 446.48h0.5M387.84 452.02l-4.3 -6.97h8.6zM387.59 447.2h0.5M390.2 452.72l-4.3 -6.97h8.6zM389.95 447.9h0.5M392.56 453.41l-4.3 -6.97h8.6zM392.31 448.59h0.5M394.92 454.09l-4.3 -6.97h8.6zM394.67 449.28h0.5M397.28 454.76l-4.3 -6.97h8.6zM397.03 449.95h0.5M399.64 455.42l-4.3 -6.97h8.6zM399.39 450.61h0.5M402 456.07l-4.3 -6.97h8.6zM401.75 451.26h0.5M404.37 456.71l-4.3 -6.97h8.6zM404.12 451.89h0.5M406.73 457.34l-4.3 -6.97h8.6zM406.48 452.52h0.5M409.09 457.96l-4.3 -6.97h8.6zM408.84 453.14h0.5M411.45 458.56l-4.3 -6.97h8.6zM411.2 453.75h0.5M413.81 459.16l-4.3 -6.97h8.6zM413.56 454.35h0.5M416.17 459.75l-4.3 -6.97h8.6zM415.92 454.93h0.5M418.53 460.33l-4.3 -6.97h8.6zM418.28 455.51h0.5M420.89 460.9l-4.3 -6.97h8.6zM420.64 456.08h0.5M423.25 461.46l-4.3 -6.97h8.6zM423 456.64h0.5M425.61 462l-4.3 -6.97h8.6zM425.36 457.19h0.5M427.97 462.54l-4.3 -6.97h8.6zM427.72 457.73h0.5M430.33 463.07l-4.3 -6.97h8.6zM430.08 458.26h0.5M432.7 463.59l-4.3 -6.97h8.6zM432.45 458.78h0.5M435.06 464.1l-4.3 -6.97h8.6zM434.81 459.29h0.5M437.42 464.61l-4.3 -6.97h8.6zM437.17 459.79h0.5M439.78 465.1l-4.3 -6.97h8.6zM439.53 460.28h0.5M442.14 465.58l-4.3 -6.97h8.6zM441.89 460.76h0.5M444.5 466.05l-4.3 -6.97h8.6zM444.25 461.24h0.5M446.86 466.52l-4.3 -6.97h8.6zM446.61 461.7h0.5M449.22 466.97l-4.3 -6.97h8.6zM448.97 462.16h0.5M451.58 467.42l-4.3 -6.97h8.6zM451.33 462.6h0.5M453.94 467.86l-4.3 -6.97h8.6zM453.69 463.04h0.5M456.3 468.29l-4.3 -6.97h8.6zM456.05 463.47h0.5M458.66 468.71l-4.3 -6.97h8.6zM458.41 463.89h0.5M461.02 469.12l-4.3 -6.97h8.6zM460.77 464.3h0.5M463.39 469.53l-4.3 -6.97h8.6zM463.14 464.72h0.5M465.75 469.94l-4.3 -6.97h8.6zM465.5 465.13h0.5M468.11 470.34l-4.3 -6.97h8.6zM467.86 465.53h0.5M470.47 470.74l-4.3 -6.97h8.6zM470.22 465.92h0.5M472.83 471.12l-4.3 -6.97h8.6zM472.58 466.3h0.5M475.19 471.49l-4.3 -6.97h8.6zM474.94 466.67h0.5M477.55 471.85l-4.3 -6.97h8.6zM477.3 467.04h0.5M479.91 472.21l-4.3 -6.97h8.6zM479.66 467.39h0.5M482.27 472.55l-4.3 -6.97h8.6zM482.02 467.74h0.5M484.63 472.89l-4.3 -6.97h8.6zM484.38 468.07h0.5M486.99 473.22l-4.3 -6.97h8.6zM486.74 468.4h0.5M489.36 473.54l-4.3 -6.97h8.6zM489.11 468.72h0.5M491.72 473.85l-4.3 -6.97h8.6zM491.47 469.03h0.5M494.08 474.15l-4.3 -6.97h8.6zM493.83 469.33h0.5M496.44 474.44l-4.3 -6.97h8.6zM496.19 469.62h0.5M498.8 474.72l-4.3 -6.97h8.6zM498.55 469.9h0.5M501.16 475l-4.3 -6.97h8.6zM500.91 470.18h0.5M503.52 475.26l-4.3 -6.97h8.6zM503.27 470.44h0.5M505.88 475.52l-4.3 -6.97h8.6zM505.63 470.7h0.5M508.24 475.76l-4.3 -6.97h8.6zM507.99 470.95h0.5M510.6 476l-4.3 -6.97h8.6zM510.35 471.19h0.5M512.96 476.23l-4.3 -6.97h8.6zM512.71 471.42h0.5M515.32 476.46l-4.3 -6.97h8.6zM515.07 471.64h0.5M517.68 476.67l-4.3 -6.97h8.6zM517.43 471.85h0.5M520.05 476.87l-4.3 -6.97h8.6zM519.8 472.06h0.5M522.41 477.07l-4.3 -6.97h8.6zM522.16 472.25h0.5M524.77 477.25l-4.3 -6.97h8.6zM524.52 472.44h0.5M527.13 477.43l-4.3 -6.97h8.6zM526.88 472.62h0.5M529.49 477.6l-4.3 -6.97h8.6zM529.24 472.78h0.5M531.85 477.76l-4.3 -6.97h8.6zM531.6 472.94h0.5M534.21 477.93l-4.3 -6.97h8.6zM533.96 473.11h0.5M536.57 478.09l-4.3 -6.97h8.6zM536.32 473.27h0.5M538.93 478.24l-4.3 -6.97h8.6zM538.68 473.42h0.5M541.29 478.38l-4.3 -6.97h8.6zM541.04 473.56h0.5M543.65 478.51l-4.3 -6.97h8.6zM543.4 473.69h0.5M546.01 478.63l-4.3 -6.97h8.6zM545.76 473.82h0.5M548.38 478.75l-4.3 -6.97h8.6zM548.13 473.93h0.5M550.74 478.85l-4.3 -6.97h8.6zM550.49 474.04h0.5M553.1 478.95l-4.3 -6.97h8.6zM552.85 474.13h0.5M555.46 479.04l-4.3 -6.97h8.6zM555.21 474.22h0.5M557.82 479.12l-4.3 -6.97h8.6zM557.57 474.3h0.5M560.18 479.19l-4.3 -6.97h8.6zM559.93 474.37h0.5M562.54 479.25l-4.3 -6.97h8.6zM562.29 474.43h0.5M564.9 479.3l-4.3 -6.97h8.6zM564.65 474.49h0.5M567.26 479.35l-4.3 -6.97h8.6zM567.01 474.53h0.5M569.62 479.38l-4.3 -6.97h8.6zM569.37 474.56h0.5M571.98 479.41l-4.3 -6.97h8.6zM571.73 474.59h0.5M574.35 479.42l-4.3 -6.97h8.6zM574.1 474.61h0.5M576.71 479.43l-4.3 -6.97h8.6zM576.46 474.61h0.5M579.07 479.43l-4.3 -6.97h8.6zM578.82 474.61h0.5M581.43 479.42l-4.3 -6.97h8.6zM581.18 474.6h0.5M583.79 479.4l-4.3 -6.97h8.6zM583.54 474.58h0.5M586.15 479.37l-4.3 -6.97h8.6zM585.9 474.55h0.5M588.51 479.33l-4.3 -6.97h8.6zM588.26 474.51h0.5M590.87 479.28l-4.3 -6.97h8.6zM590.62 474.46h0.5M593.23 479.22l-4.3 -6.97h8.6zM592.98 474.4h0.5M595.59 479.15l-4.3 -6.97h8.6zM595.34 474.34h0.5M597.95 479.07l-4.3 -6.97h8.6zM597.7 474.26h0.5M600.31 478.99l-4.3 -6.97h8.6zM600.06 474.17h0.5M602.67 478.89l-4.3 -6.97h8.6zM602.42 474.07h0.5M605.04 478.81l-4.3 -6.97h8.6zM604.79 473.99h0.5M607.4 478.72l-4.3 -6.97h8.6zM607.15 473.9h0.5M609.76 478.62l-4.3 -6.97h8.6zM609.51 473.8h0.5M612.12 478.51l-4.3 -6.97h8.6zM611.87 473.69h0.5M614.48 478.39l-4.3 -6.97h8.6zM614.23 473.57h0.5M616.84 478.26l-4.3 -6.97h8.6zM616.59 473.44h0.5M619.2 478.12l-4.3 -6.97h8.6zM618.95 473.3h0.5M621.56 477.97l-4.3 -6.97h8.6zM621.31 473.15h0.5M623.92 477.81l-4.3 -6.97h8.6zM623.67 472.99h0.5M626.28 477.64l-4.3 -6.97h8.6zM626.03 472.82h0.5M628.64 477.45l-4.3 -6.97h8.6zM628.39 472.64h0.5M631 477.26l-4.3 -6.97h8.6zM630.75 472.45h0.5M633.37 477.06l-4.3 -6.97h8.6zM633.12 472.24h0.5M635.73 476.84l-4.3 -6.97h8.6zM635.48 472.02h0.5M638.09 476.61l-4.3 -6.97h8.6zM637.84 471.8h0.5M640.45 476.37l-4.3 -6.97h8.6zM640.2 471.56h0.5M642.81 476.12l-4.3 -6.97h8.6zM642.56 471.31h0.5M645.17 475.86l-4.3 -6.97h8.6zM644.92 471.05h0.5M647.53 475.59l-4.3 -6.97h8.6zM647.28 470.77h0.5M649.89 475.3l-4.3 -6.97h8.6zM649.64 470.48h0.5M652.25 475l-4.3 -6.97h8.6zM652 470.18h0.5M654.61 474.69l-4.3 -6.97h8.6zM654.36 469.87h0.5M656.97 474.36l-4.3 -6.97h8.6zM656.72 469.55h0.5M659.34 474.02l-4.3 -6.97h8.6zM659.09 469.21h0.5M661.7 473.67l-4.3 -6.97h8.6zM661.45 468.86h0.5M664.06 473.31l-4.3 -6.97h8.6zM663.81 468.49h0.5M666.42 472.92l-4.3 -6.97h8.6zM666.17 468.11h0.5M668.78 472.53l-4.3 -6.97h8.6zM668.53 467.71h0.5M671.14 472.12l-4.3 -6.97h8.6zM670.89 467.31h0.5M673.5 471.7l-4.3 -6.97h8.6zM673.25 466.88h0.5M675.86 471.29l-4.3 -6.97h8.6zM675.61 466.47h0.5M678.22 470.86l-4.3 -6.97h8.6zM677.97 466.05h0.5M680.58 470.43l-4.3 -6.97h8.6zM680.33 465.61h0.5M682.94 469.97l-4.3 -6.97h8.6zM682.69 465.15h0.5M685.3 469.5l-4.3 -6.97h8.6zM685.05 464.68h0.5M687.66 469.01l-4.3 -6.97h8.6zM687.41 464.19h0.5M690.03 468.5l-4.3 -6.97h8.6zM689.78 463.69h0.5M692.39 467.98l-4.3 -6.97h8.6zM692.14 463.16h0.5M694.75 467.44l-4.3 -6.97h8.6zM694.5 462.62h0.5M697.11 466.88l-4.3 -6.97h8.6zM696.86 462.06h0.5M699.47 466.3l-4.3 -6.97h8.6zM699.22 461.48h0.5M701.83 465.7l-4.3 -6.97h8.6zM701.58 460.88h0.5M704.19 465.08l-4.3 -6.97h8.6zM703.94 460.26h0.5M706.55 464.43l-4.3 -6.97h8.6zM706.3 459.62h0.5M708.91 463.77l-4.3 -6.97h8.6zM708.66 458.95h0.5M711.27 463.08l-4.3 -6.97h8.6zM711.02 458.27h0.5M713.63 462.37l-4.3 -6.97h8.6zM713.38 457.55h0.5M716 461.63l-4.3 -6.97h8.6zM715.75 456.82h0.5M718.36 460.9l-4.3 -6.97h8.6zM718.11 456.09h0.5M720.72 460.14l-4.3 -6.97h8.6zM720.47 455.33h0.5M723.08 459.36l-4.3 -6.97h8.6zM722.83 454.54h0.5M725.44 458.54l-4.3 -6.97h8.6zM725.19 453.73h0.5M727.8 457.7l-4.3 -6.97h8.6zM727.55 452.88h0.5M730.16 456.82l-4.3 -6.97h8.6zM729.91 452h0.5M732.52 455.91l-4.3 -6.97h8.6zM732.27 451.09h0.5M734.88 454.96l-4.3 -6.97h8.6zM734.63 450.15h0.5M737.24 453.98l-4.3 -6.97h8.6zM736.99 449.16h0.5M739.6 452.96l-4.3 -6.97h8.6zM739.35 448.14h0.5M741.96 451.9l-4.3 -6.97h8.6zM741.71 447.08h0.5M744.33 450.79l-4.3 -6.97h8.6zM744.08 445.98h0.5M746.69 449.78l-4.3 -6.97h8.6zM746.44 444.97h0.5M749.05 448.73l-4.3 -6.97h8.6zM748.8 443.91h0.5M751.41 447.62l-4.3 -6.97h8.6zM751.16 442.81h0.5M753.77 446.47l-4.3 -6.97h8.6zM753.52 441.66h0.5M756.13 445.27l-4.3 -6.97h8.6zM755.88 440.45h0.5M758.49 444.01l-4.3 -6.97h8.6zM758.24 439.19h0.5M760.85 442.68l-4.3 -6.97h8.6zM760.6 437.86h0.5M763.21 441.28l-4.3 -6.97h8.6zM762.96 436.46h0.5M765.57 439.81l-4.3 -6.97h8.6zM765.32 435h0.5M767.93 438.01l-4.3 -6.97h8.6zM767.68 433.19h0.5M770.29 436.12l-4.3 -6.97h8.6zM770.04 431.31h0.5M772.65 434.14l-4.3 -6.97h8.6zM772.4 429.32h0.5M775.02 432.09l-4.3 -6.97h8.6zM774.77 427.27h0.5M777.38 429.92l-4.3 -6.97h8.6zM777.13 425.11h0.5M779.74 427.62l-4.3 -6.97h8.6zM779.49 422.81h0.5M782.1 425.18l-4.3 -6.97h8.6zM781.85 420.36h0.5M784.46 422.56l-4.3 -6.97h8.6zM784.21 417.74h0.5M786.82 419.74l-4.3 -6.97h8.6zM786.57 414.93h0.5M789.18 416.84l-4.3 -6.97h8.6zM788.93 412.03h0.5M791.54 413.68l-4.3 -6.97h8.6zM791.29 408.86h0.5M793.9 410.2l-4.3 -6.97h8.6zM793.65 405.38h0.5M796.26 406.33l-4.3 -6.97h8.6zM796.01 401.52h0.5M798.62 401.98l-4.3 -6.97h8.6zM798.37 397.16h0.5M800.99 396.98l-4.3 -6.97h8.6zM800.74 392.16h0.5M803.35 391.32l-4.3 -6.97h8.6zM803.1 386.51h0.5M805.71 384.39l-4.3 -6.97h8.6zM805.46 379.58h0.5M808.07 375.45l-4.3 -6.97h8.6zM807.82 370.64h0.5M810.43 362.84l-4.3 -6.97h8.6zM810.18 358.03h0.5M812.79 341.32l-4.3 -6.97h8.6zM812.54 336.5h0.5" fill="none" stroke="#ff00ff" stroke-width="0.64"/>
<path d="M109.39 -204.32L110.78 -116.9L112.17 -65.76L113.56 -29.47L114.95 -1.33L116.33 21.66L117.72 41.1L119.11 57.94L120.5 72.79L121.89 86.07L123.28 98.08L124.67 109.05L126.06 119.13L127.45 128.47L128.84 137.16L130.22 145.29L131.61 152.92L133 160.11L134.39 166.92L135.78 173.37L137.17 179.51L138.56 185.36L139.95 190.95L141.34 196.3L142.72 201.42L144.11 206.35L145.5 211.09L146.89 215.65L148.28 220.06L149.67 224.31L151.06 228.42L152.45 232.4L153.84 236.25L155.23 239.99L156.62 243.62L158 247.14L159.39 250.56L160.78 253.9L162.17 257.14L163.56 260.3L164.98 263.38L166.39 266.39L167.81 269.32L169.23 272.18L170.64 274.98L172.06 277.72L173.48 280.39L174.89 283.01L176.31 285.57L177.73 288.07L179.14 290.53L180.56 292.93L181.97 295.29L183.39 297.61L184.81 299.88L186.22 302.1L187.64 304.29L189.06 306.43L190.47 308.54L191.89 310.61L193.31 312.64L194.72 314.64L196.14 316.61L197.56 318.54L198.97 320.45L200.39 322.32L201.81 324.16L203.22 325.97L204.64 327.75L206.06 329.51L207.47 331.24L208.89 332.94L210.3 334.62L211.72 336.28L213.14 337.91L214.55 339.52L215.97 341.1L217.39 342.66L218.8 344.2L220.22 345.72L221.64 347.22L223.05 348.7L224.47 350.16L225.89 351.6L227.3 353.02L228.72 354.43L230.14 355.81L231.55 357.18L232.97 358.53L234.38 359.86L235.8 361.18L237.22 362.48L238.63 363.77L240.05 365.04L241.47 366.29L242.88 367.53L244.3 368.76L245.72 369.97L247.13 371.17L248.55 372.35L249.97 373.52L251.38 374.68L252.8 375.82L254.22 376.95L255.63 378.07L257.05 379.18L258.47 380.27L259.88 381.35L261.3 382.42L262.72 383.48L264.13 384.53L265.55 385.56L266.96 386.59L268.38 387.6L269.8 388.61L271.21 389.6L272.63 390.59L274.05 391.56L275.46 392.52L276.88 393.48L278.3 394.42L279.71 395.35L281.13 396.28L282.55 397.19L283.96 398.1L285.38 399L286.8 399.89L288.21 400.77L289.63 401.64L291.05 402.5L292.46 403.35L293.88 404.2L295.29 405.04L296.71 405.87L298.13 406.69L299.54 407.5L300.96 408.31L302.38 409.11L303.79 409.9L305.21 410.68L306.63 411.46L308.04 412.23L309.46 412.99L310.88 413.75L312.29 414.49L313.71 415.23L315.13 415.97L316.54 416.7L317.96 417.42L319.38 418.13L320.79 418.84L322.21 419.54L323.62 420.23L325.04 420.92L326.46 421.6L327.87 422.28L329.29 422.95L330.71 423.61L332.12 424.27L333.54 424.92L334.96 425.56L336.37 426.2L337.79 426.83L339.21 427.46L340.62 428.08L342.04 428.7L343.46 429.31L344.87 429.92L346.29 430.52L347.71 431.11L349.12 431.7L350.54 432.29L351.95 432.86L353.37 433.44L354.79 434.01L356.2 434.57L357.62 435.13L359.04 435.68L360.45 436.23L361.87 436.77L363.29 437.31L364.7 437.84L366.12 438.37L367.54 438.89L368.95 439.41L370.37 439.93L371.79 440.44L373.2 440.94L374.62 441.44L376.03 441.94L377.45 442.43L378.87 442.92L380.28 443.4L381.7 443.87L383.12 444.35L384.53 444.82L385.95 445.28L387.37 445.74L388.78 446.2L390.2 446.65L391.62 447.1L393.03 447.54L394.45 447.98L395.87 448.41L397.28 448.84L398.7 449.27L400.12 449.69L401.53 450.11L402.95 450.53L404.37 450.94L405.78 451.34L407.2 451.74L408.61 452.14L410.03 452.54L411.45 452.93L412.86 453.32L414.28 453.7L415.7 454.08L417.11 454.45L418.53 454.82L419.95 455.19L421.36 455.56L422.78 455.92L424.2 456.27L425.61 456.63L427.03 456.98L428.45 457.32L429.86 457.66L431.28 458L432.7 458.34L434.11 458.67L435.53 459L436.94 459.32L438.36 459.64L439.78 459.96L441.19 460.27L442.61 460.58L444.03 460.89L445.44 461.19L446.86 461.49L448.28 461.79L449.69 462.08L451.11 462.37L452.53 462.65L453.94 462.94L455.36 463.22L456.78 463.49L458.19 463.77L459.61 464.03L461.02 464.3L462.44 464.56L463.86 464.82L465.27 465.08L466.69 465.33L468.11 465.58L469.52 465.83L470.94 466.07L472.36 466.31L473.77 466.54L475.19 466.78L476.61 467.01L478.02 467.23L479.44 467.46L480.86 467.68L482.27 467.89L483.69 468.11L485.11 468.32L486.52 468.53L487.94 468.73L489.36 468.93L490.77 469.13L492.19 469.32L493.6 469.52L495.02 469.7L496.44 469.89L497.85 470.07L499.27 470.25L500.69 470.43L502.1 470.6L503.52 470.77L504.94 470.94L506.35 471.1L507.77 471.26L509.19 471.42L510.6 471.57L512.02 471.72L513.44 471.87L514.85 472.02L516.27 472.16L517.68 472.3L519.1 472.43L520.52 472.56L521.93 472.69L523.35 472.82L524.77 472.94L526.18 473.06L527.6 473.18L529.02 473.29L530.43 473.4L531.85 473.51L533.27 473.62L534.68 473.72L536.1 473.82L537.52 473.91L538.93 474L540.35 474.09L541.77 474.18L543.18 474.26L544.6 474.34L546.01 474.42L547.43 474.49L548.85 474.56L550.26 474.63L551.68 474.69L553.1 474.75L554.51 474.81L555.93 474.86L557.35 474.92L558.76 474.96L560.18 475.01L561.6 475.05L563.01 475.09L564.43 475.12L565.85 475.16L567.26 475.19L568.68 475.21L570.1 475.23L571.51 475.25L572.93 475.27L574.35 475.28L575.76 475.29L577.18 475.3L578.59 475.3L580.01 475.3L581.43 475.3L582.84 475.29L584.26 475.28L585.68 475.26L587.09 475.25L588.51 475.23L589.93 475.2L591.34 475.17L592.76 475.14L594.18 475.11L595.59 475.07L597.01 475.03L598.43 474.98L599.84 474.94L601.26 474.88L602.68 474.83L604.09 474.77L605.51 474.71L606.92 474.64L608.34 474.57L609.76 474.5L611.17 474.42L612.59 474.34L614.01 474.25L615.42 474.16L616.84 474.07L618.26 473.98L619.67 473.88L621.09 473.77L622.51 473.66L623.92 473.55L625.34 473.44L626.76 473.32L628.17 473.19L629.59 473.07L631 472.93L632.42 472.8L633.84 472.66L635.25 472.51L636.67 472.37L638.09 472.21L639.5 472.06L640.92 471.9L642.34 471.73L643.75 471.56L645.17 471.39L646.59 471.21L648 471.02L649.42 470.84L650.84 470.64L652.25 470.44L653.67 470.24L655.09 470.04L656.5 469.82L657.92 469.61L659.34 469.39L660.75 469.16L662.17 468.93L663.58 468.69L665 468.45L666.42 468.2L667.83 467.95L669.25 467.69L670.67 467.43L672.08 467.16L673.5 466.88L674.92 466.6L676.33 466.31L677.75 466.02L679.17 465.72L680.58 465.42L682 465.11L683.42 464.79L684.83 464.47L686.25 464.14L687.67 463.8L689.08 463.46L690.5 463.11L691.91 462.75L693.33 462.39L694.75 462.02L696.16 461.64L697.58 461.26L699 460.86L700.41 460.46L701.83 460.05L703.25 459.64L704.66 459.21L706.08 458.78L707.5 458.34L708.91 457.89L710.33 457.43L711.75 456.96L713.16 456.48L714.58 455.99L716 455.49L717.41 454.99L718.83 454.47L720.24 453.94L721.66 453.4L723.08 452.85L724.49 452.29L725.91 451.72L727.33 451.13L728.74 450.53L730.16 449.92L731.58 449.3L732.99 448.66L734.41 448.01L735.83 447.35L737.24 446.67L738.66 445.97L740.08 445.26L741.49 444.53L742.91 443.79L744.33 443.03L745.74 442.25L747.16 441.45L748.57 440.63L749.99 439.79L751.41 438.93L752.82 438.04L754.24 437.14L755.66 436.21L757.07 435.25L758.49 434.27L759.91 433.26L761.32 432.22L762.74 431.15L764.16 430.05L765.57 428.92L766.99 427.75L768.41 426.54L769.82 425.29L771.24 424L772.65 422.66L774.07 421.28L775.49 419.84L776.9 418.35L778.32 416.8L779.74 415.19L781.15 413.5L782.57 411.75L783.99 409.91L785.4 407.98L786.82 405.96L788.24 403.83L789.65 401.58L791.07 399.2L792.49 396.68L793.9 393.99L795.32 391.1L796.74 388.01L798.15 384.66L799.57 381.02L800.99 377.02L802.4 372.61L803.82 367.67L805.23 362.06L806.65 355.59L808.07 347.93L809.48 338.56L810.9 326.47L812.32 309.42L813.73 280.28" fill="none" stroke="#000" stroke-width="1.9" stroke-linejoin="round" clip-path="url(#cl)"/>
<path d="M177.73 502.2v-7.5M177.73 10.4v7.5M248.55 502.2v-7.5M248.55 10.4v7.5M319.38 502.2v-7.5M319.38 10.4v7.5M390.2 502.2v-7.5M390.2 10.4v7.5M461.02 502.2v-7.5M461.02 10.4v7.5M531.85 502.2v-7.5M531.85 10.4v7.5M602.68 502.2v-7.5M602.68 10.4v7.5M673.5 502.2v-7.5M673.5 10.4v7.5M744.33 502.2v-7.5M744.33 10.4v7.5M107.1 464.3h7.5M813.7 464.3h-7.5M107.1 388.62h7.5M813.7 388.62h-7.5M107.1 312.94h7.5M813.7 312.94h-7.5M107.1 237.26h7.5M813.7 237.26h-7.5M107.1 161.58h7.5M813.7 161.58h-7.5M107.1 85.9h7.5M813.7 85.9h-7.5" stroke="#1e1e1e" stroke-width="1.35" fill="none"/>
<rect x="107.1" y="10.4" width="706.6" height="491.8" fill="none" stroke="#1e1e1e" stroke-width="1.35"/>
<g font-family="'Liberation Serif', 'DejaVu Serif', serif" font-size="30.7" fill="#000" stroke="#000" stroke-width="0.3">
<text transform="translate(95.6 474.4) scale(0.95 1)" text-anchor="end">0</text>
<text transform="translate(95.6 398.72) scale(0.95 1)" text-anchor="end">0.2</text>
<text transform="translate(95.6 323.04) scale(0.95 1)" text-anchor="end">0.4</text>
<text transform="translate(95.6 247.36) scale(0.95 1)" text-anchor="end">0.6</text>
<text transform="translate(95.6 171.68) scale(0.95 1)" text-anchor="end">0.8</text>
<text transform="translate(95.6 96) scale(0.95 1)" text-anchor="end">1</text>
<text transform="translate(95.6 20.32) scale(0.95 1)" text-anchor="end">1.2</text>
<text transform="translate(110.8 536) scale(0.95 1)" text-anchor="middle">0</text>
<text transform="translate(181.63 536) scale(0.95 1)" text-anchor="middle">0.05</text>
<text transform="translate(252.45 536) scale(0.95 1)" text-anchor="middle">0.1</text>
<text transform="translate(323.27 536) scale(0.95 1)" text-anchor="middle">0.15</text>
<text transform="translate(394.1 536) scale(0.95 1)" text-anchor="middle">0.2</text>
<text transform="translate(464.92 536) scale(0.95 1)" text-anchor="middle">0.25</text>
<text transform="translate(535.75 536) scale(0.95 1)" text-anchor="middle">0.3</text>
<text transform="translate(606.58 536) scale(0.95 1)" text-anchor="middle">0.35</text>
<text transform="translate(677.4 536) scale(0.95 1)" text-anchor="middle">0.4</text>
<text transform="translate(748.23 536) scale(0.95 1)" text-anchor="middle">0.45</text>
<text transform="translate(681 42.7) scale(0.95 1)" text-anchor="end">L=100</text>
<text transform="translate(681 72.55) scale(0.95 1)" text-anchor="end">L=200</text>
<text transform="translate(681 102.4) scale(0.95 1)" text-anchor="end">L=400</text>
<text transform="translate(681 132.25) scale(0.95 1)" text-anchor="end">L=600</text>
<text transform="translate(681 162.1) scale(0.95 1)" text-anchor="end">CFT</text>
</g>
<path d="M734.1 28.3h8.6v8.6h-8.6zM738.15 32.6h0.5" fill="none" stroke="#ff0000" stroke-width="0.64"/>
<path d="M734.1 62.55a4.3 4.3 0 1 0 8.6 0a4.3 4.3 0 1 0 -8.6 0zM738.15 62.55h0.5" fill="none" stroke="#00ff00" stroke-width="0.64"/>
<path d="M738.4 87.68l-4.3 6.97h8.6zM738.15 92.5h0.5" fill="none" stroke="#0000ff" stroke-width="0.64"/>
<path d="M738.4 127.27l-4.3 -6.97h8.6zM738.15 122.45h0.5" fill="none" stroke="#ff00ff" stroke-width="0.64"/>
<path d="M698.8 151.3L778.2 151.3" stroke="#000" stroke-width="1.7" fill="none"/>
<text transform="translate(29.9 440) rotate(-90)" font-family="'Liberation Serif', 'DejaVu Serif', serif" font-size="42.3" stroke="#fff" stroke-width="0.6"><tspan x="3.44" y="0" font-style="italic" textLength="27.1" lengthAdjust="spacingAndGlyphs">R</tspan><tspan x="29.96" y="6" font-size="27.7" textLength="14.04" lengthAdjust="spacingAndGlyphs" stroke="none">3</tspan><tspan x="48.66" y="0" font-size="43.7" textLength="11.67" lengthAdjust="spacingAndGlyphs">(</tspan><tspan x="61.01" y="0" font-style="italic" textLength="16.08" lengthAdjust="spacingAndGlyphs">ℓ</tspan><tspan x="78.4" y="0" font-size="44" textLength="8.56" lengthAdjust="spacingAndGlyphs" stroke="none">,</tspan><tspan x="96.52" y="0" font-style="italic" textLength="24.58" lengthAdjust="spacingAndGlyphs">L</tspan><tspan x="120.4" y="0" font-size="43.7" textLength="12.45" lengthAdjust="spacingAndGlyphs">)</tspan><tspan x="144.41" y="1" font-size="34" textLength="29.33" lengthAdjust="spacingAndGlyphs" stroke="none">−</tspan><tspan x="184.54" y="0" font-style="italic" textLength="27.3" lengthAdjust="spacingAndGlyphs">R</tspan><tspan x="211.26" y="6" font-size="27.7" textLength="14.04" lengthAdjust="spacingAndGlyphs" stroke="none">3</tspan><tspan x="229.67" y="0" font-size="43.7" textLength="12.32" lengthAdjust="spacingAndGlyphs">(</tspan><tspan x="244.52" y="0" font-style="italic" textLength="24.58" lengthAdjust="spacingAndGlyphs">L</tspan><tspan x="270.4" y="9.3" font-size="58" textLength="14.9" lengthAdjust="spacingAndGlyphs">/</tspan><tspan x="287.58" y="0" font-size="40.6" textLength="18.39" lengthAdjust="spacingAndGlyphs" stroke="none">4</tspan><tspan x="308.1" y="0" font-size="44" textLength="8.56" lengthAdjust="spacingAndGlyphs" stroke="none">,</tspan><tspan x="326.22" y="0" font-style="italic" textLength="24.47" lengthAdjust="spacingAndGlyphs">L</tspan><tspan x="350.18" y="0" font-size="43.7" textLength="12.58" lengthAdjust="spacingAndGlyphs">)</tspan></text>
<text transform="translate(396.1 586.2)" font-family="'Liberation Serif', 'DejaVu Serif', serif" font-size="42.3" stroke="#fff" stroke-width="0.6"><tspan x="0.48" y="0" font-size="40" font-style="italic" textLength="16.68" lengthAdjust="spacingAndGlyphs">z</tspan><tspan x="27.95" y="2" font-size="35" textLength="31.15" lengthAdjust="spacingAndGlyphs" stroke="none">=</tspan><tspan x="69.21" y="0" font-style="italic" textLength="16.08" lengthAdjust="spacingAndGlyphs">ℓ</tspan><tspan x="88.1" y="9.3" font-size="58" textLength="14.6" lengthAdjust="spacingAndGlyphs">/</tspan><tspan x="106.83" y="0" font-size="41" font-style="italic" textLength="25.22" lengthAdjust="spacingAndGlyphs">L</tspan></text>
<path d="M958.92 486.28h7.9v7.9h-7.9zM962.62 490.23h0.5M963.55 473.86h7.9v7.9h-7.9zM967.25 477.81h0.5M968.18 464.9h7.9v7.9h-7.9zM971.88 468.85h0.5M972.82 457.49h7.9v7.9h-7.9zM976.52 461.44h0.5M977.45 451.66h7.9v7.9h-7.9zM981.15 455.61h0.5M982.08 446.57h7.9v7.9h-7.9zM985.78 450.52h0.5M986.72 442.01h7.9v7.9h-7.9zM990.42 445.96h0.5M991.35 437.86h7.9v7.9h-7.9zM995.05 441.81h0.5M995.99 434.02h7.9v7.9h-7.9zM999.69 437.97h0.5M1000.62 430.41h7.9v7.9h-7.9zM1004.32 434.36h0.5M1005.25 426.99h7.9v7.9h-7.9zM1008.95 430.94h0.5M1009.89 423.72h7.9v7.9h-7.9zM1013.59 427.67h0.5M1014.52 420.57h7.9v7.9h-7.9zM1018.22 424.52h0.5M1019.15 417.52h7.9v7.9h-7.9zM1022.85 421.47h0.5M1023.79 414.48h7.9v7.9h-7.9zM1027.49 418.43h0.5M1028.42 411.5h7.9v7.9h-7.9zM1032.12 415.45h0.5M1033.05 408.58h7.9v7.9h-7.9zM1036.75 412.53h0.5M1037.69 405.7h7.9v7.9h-7.9zM1041.39 409.65h0.5M1042.32 402.87h7.9v7.9h-7.9zM1046.02 406.82h0.5M1046.95 400.08h7.9v7.9h-7.9zM1050.65 404.03h0.5M1051.59 397.31h7.9v7.9h-7.9zM1055.29 401.26h0.5M1056.22 394.57h7.9v7.9h-7.9zM1059.92 398.52h0.5M1060.85 391.85h7.9v7.9h-7.9zM1064.55 395.8h0.5M1065.49 389.16h7.9v7.9h-7.9zM1069.19 393.11h0.5M1070.12 386.47h7.9v7.9h-7.9zM1073.82 390.42h0.5M1074.75 383.81h7.9v7.9h-7.9zM1078.45 387.76h0.5M1079.39 381.15h7.9v7.9h-7.9zM1083.09 385.1h0.5M1084.02 378.51h7.9v7.9h-7.9zM1087.72 382.46h0.5M1088.65 375.87h7.9v7.9h-7.9zM1092.36 379.82h0.5M1093.29 373.24h7.9v7.9h-7.9zM1096.99 377.19h0.5M1097.92 370.62h7.9v7.9h-7.9zM1101.62 374.57h0.5M1102.56 368.01h7.9v7.9h-7.9zM1106.26 371.96h0.5M1107.19 365.4h7.9v7.9h-7.9zM1110.89 369.35h0.5M1111.82 362.8h7.9v7.9h-7.9zM1115.52 366.75h0.5M1116.46 360.2h7.9v7.9h-7.9zM1120.16 364.15h0.5M1121.09 357.6h7.9v7.9h-7.9zM1124.79 361.55h0.5M1125.72 355.01h7.9v7.9h-7.9zM1129.42 358.96h0.5M1130.36 352.32h7.9v7.9h-7.9zM1134.06 356.27h0.5M1134.99 349.5h7.9v7.9h-7.9zM1138.69 353.45h0.5M1139.62 346.68h7.9v7.9h-7.9zM1143.32 350.63h0.5M1144.26 343.86h7.9v7.9h-7.9zM1147.96 347.81h0.5M1148.89 341.04h7.9v7.9h-7.9zM1152.59 344.99h0.5M1153.52 338.23h7.9v7.9h-7.9zM1157.22 342.18h0.5M1158.16 335.42h7.9v7.9h-7.9zM1161.86 339.37h0.5M1162.79 332.6h7.9v7.9h-7.9zM1166.49 336.55h0.5M1167.42 329.79h7.9v7.9h-7.9zM1171.12 333.74h0.5M1172.06 326.98h7.9v7.9h-7.9zM1175.76 330.93h0.5M1176.69 324.17h7.9v7.9h-7.9zM1180.39 328.12h0.5M1181.33 321.37h7.9v7.9h-7.9zM1185.03 325.32h0.5M1185.96 318.56h7.9v7.9h-7.9zM1189.66 322.51h0.5M1190.59 315.75h7.9v7.9h-7.9zM1194.29 319.7h0.5M1195.23 312.95h7.9v7.9h-7.9zM1198.93 316.9h0.5M1199.86 310.14h7.9v7.9h-7.9zM1203.56 314.09h0.5M1204.49 307.33h7.9v7.9h-7.9zM1208.19 311.28h0.5M1209.13 304.53h7.9v7.9h-7.9zM1212.83 308.48h0.5M1213.76 301.77h7.9v7.9h-7.9zM1217.46 305.72h0.5M1218.39 299.06h7.9v7.9h-7.9zM1222.09 303.01h0.5M1223.03 296.35h7.9v7.9h-7.9zM1226.73 300.3h0.5M1227.66 293.64h7.9v7.9h-7.9zM1231.36 297.59h0.5M1232.29 290.93h7.9v7.9h-7.9zM1235.99 294.88h0.5M1236.93 288.23h7.9v7.9h-7.9zM1240.63 292.18h0.5M1241.56 285.52h7.9v7.9h-7.9zM1245.26 289.47h0.5M1246.19 282.81h7.9v7.9h-7.9zM1249.89 286.76h0.5M1250.83 280.1h7.9v7.9h-7.9zM1254.53 284.05h0.5M1255.46 277.39h7.9v7.9h-7.9zM1259.16 281.34h0.5M1260.09 274.68h7.9v7.9h-7.9zM1263.79 278.63h0.5M1264.73 271.98h7.9v7.9h-7.9zM1268.43 275.93h0.5M1269.36 269.27h7.9v7.9h-7.9zM1273.06 273.22h0.5M1273.99 266.56h7.9v7.9h-7.9zM1277.69 270.51h0.5M1278.63 263.85h7.9v7.9h-7.9zM1282.33 267.8h0.5M1283.26 261.14h7.9v7.9h-7.9zM1286.96 265.09h0.5M1287.9 258.44h7.9v7.9h-7.9zM1291.6 262.39h0.5M1292.53 255.73h7.9v7.9h-7.9zM1296.23 259.68h0.5M1297.16 253.02h7.9v7.9h-7.9zM1300.86 256.97h0.5M1301.8 250.31h7.9v7.9h-7.9zM1305.5 254.26h0.5M1306.43 247.6h7.9v7.9h-7.9zM1310.13 251.55h0.5M1311.06 244.9h7.9v7.9h-7.9zM1314.76 248.85h0.5M1315.7 242.19h7.9v7.9h-7.9zM1319.4 246.14h0.5M1320.33 239.48h7.9v7.9h-7.9zM1324.03 243.43h0.5M1324.96 236.77h7.9v7.9h-7.9zM1328.66 240.72h0.5M1329.6 234.07h7.9v7.9h-7.9zM1333.3 238.02h0.5M1334.23 231.36h7.9v7.9h-7.9zM1337.93 235.31h0.5M1338.86 228.65h7.9v7.9h-7.9zM1342.56 232.6h0.5M1343.5 225.94h7.9v7.9h-7.9zM1347.2 229.89h0.5M1348.13 223.24h7.9v7.9h-7.9zM1351.83 227.19h0.5M1352.76 220.53h7.9v7.9h-7.9zM1356.46 224.48h0.5M1357.4 217.82h7.9v7.9h-7.9zM1361.1 221.77h0.5M1362.03 215.07h7.9v7.9h-7.9zM1365.73 219.02h0.5M1366.66 212.31h7.9v7.9h-7.9zM1370.37 216.26h0.5M1371.3 209.55h7.9v7.9h-7.9zM1375 213.5h0.5M1375.93 206.78h7.9v7.9h-7.9zM1379.63 210.73h0.5M1380.57 204.02h7.9v7.9h-7.9zM1384.27 207.97h0.5M1385.2 201.26h7.9v7.9h-7.9zM1388.9 205.21h0.5M1389.83 198.49h7.9v7.9h-7.9zM1393.53 202.44h0.5M1394.47 195.73h7.9v7.9h-7.9zM1398.17 199.68h0.5M1399.1 192.97h7.9v7.9h-7.9zM1402.8 196.92h0.5M1403.73 190.21h7.9v7.9h-7.9zM1407.43 194.16h0.5M1408.37 187.44h7.9v7.9h-7.9zM1412.07 191.39h0.5M1413 184.68h7.9v7.9h-7.9zM1416.7 188.63h0.5M1417.63 181.92h7.9v7.9h-7.9zM1421.33 185.87h0.5M1422.27 179.15h7.9v7.9h-7.9zM1425.97 183.1h0.5M1426.9 176.39h7.9v7.9h-7.9zM1430.6 180.34h0.5M1431.53 173.63h7.9v7.9h-7.9zM1435.23 177.58h0.5M1436.17 170.86h7.9v7.9h-7.9zM1439.87 174.81h0.5M1440.8 168.1h7.9v7.9h-7.9zM1444.5 172.05h0.5M1445.43 165.34h7.9v7.9h-7.9zM1449.13 169.29h0.5M1450.07 162.58h7.9v7.9h-7.9zM1453.77 166.53h0.5M1454.7 159.81h7.9v7.9h-7.9zM1458.4 163.76h0.5M1459.33 157.05h7.9v7.9h-7.9zM1463.03 161h0.5M1463.97 154.29h7.9v7.9h-7.9zM1467.67 158.24h0.5M1468.6 151.52h7.9v7.9h-7.9zM1472.3 155.47h0.5M1473.24 148.76h7.9v7.9h-7.9zM1476.94 152.71h0.5M1477.87 146h7.9v7.9h-7.9zM1481.57 149.95h0.5M1482.5 143.23h7.9v7.9h-7.9zM1486.2 147.18h0.5M1487.14 140.47h7.9v7.9h-7.9zM1490.84 144.42h0.5M1491.77 137.71h7.9v7.9h-7.9zM1495.47 141.66h0.5M1496.4 134.95h7.9v7.9h-7.9zM1500.1 138.9h0.5M1501.04 132.18h7.9v7.9h-7.9zM1504.74 136.13h0.5M1505.67 129.42h7.9v7.9h-7.9zM1509.37 133.37h0.5M1510.3 126.66h7.9v7.9h-7.9zM1514 130.61h0.5M1514.94 123.89h7.9v7.9h-7.9zM1518.64 127.84h0.5M1519.57 121.13h7.9v7.9h-7.9zM1523.27 125.08h0.5M1524.2 118.37h7.9v7.9h-7.9zM1527.9 122.32h0.5M1528.84 115.61h7.9v7.9h-7.9zM1532.54 119.56h0.5M1533.47 112.84h7.9v7.9h-7.9zM1537.17 116.79h0.5M1538.1 110.08h7.9v7.9h-7.9zM1541.8 114.03h0.5M1542.74 107.32h7.9v7.9h-7.9zM1546.44 111.27h0.5M1547.37 104.55h7.9v7.9h-7.9zM1551.07 108.5h0.5M1552 101.79h7.9v7.9h-7.9zM1555.7 105.74h0.5M1556.64 99.03h7.9v7.9h-7.9zM1560.34 102.98h0.5M1561.27 96.26h7.9v7.9h-7.9zM1564.97 100.21h0.5M1565.91 93.5h7.9v7.9h-7.9zM1569.61 97.45h0.5M1570.54 90.74h7.9v7.9h-7.9zM1574.24 94.69h0.5M1575.17 87.98h7.9v7.9h-7.9zM1578.87 91.93h0.5M1579.81 85.21h7.9v7.9h-7.9zM1583.51 89.16h0.5M1584.44 82.45h7.9v7.9h-7.9zM1588.14 86.4h0.5M1589.07 79.69h7.9v7.9h-7.9zM1592.77 83.64h0.5M1593.71 76.92h7.9v7.9h-7.9zM1597.41 80.87h0.5M1598.34 74.16h7.9v7.9h-7.9zM1602.04 78.11h0.5M1602.97 71.4h7.9v7.9h-7.9zM1606.67 75.35h0.5M1607.61 68.63h7.9v7.9h-7.9zM1611.31 72.58h0.5M1612.24 65.87h7.9v7.9h-7.9zM1615.94 69.82h0.5M1616.87 63.11h7.9v7.9h-7.9zM1620.57 67.06h0.5M1621.51 60.35h7.9v7.9h-7.9zM1625.21 64.3h0.5M1626.14 57.58h7.9v7.9h-7.9zM1629.84 61.53h0.5M1630.77 54.82h7.9v7.9h-7.9zM1634.47 58.77h0.5M1635.41 52.06h7.9v7.9h-7.9zM1639.11 56.01h0.5M1640.04 49.29h7.9v7.9h-7.9zM1643.74 53.24h0.5M1644.67 46.53h7.9v7.9h-7.9zM1648.38 50.48h0.5M1649.31 43.77h7.9v7.9h-7.9zM1653.01 47.72h0.5M1653.94 41.01h7.9v7.9h-7.9zM1657.64 44.96h0.5M1658.58 38.24h7.9v7.9h-7.9zM1662.28 42.19h0.5M1663.21 35.48h7.9v7.9h-7.9zM1666.91 39.43h0.5M1667.84 32.72h7.9v7.9h-7.9zM1671.54 36.67h0.5M1672.48 29.95h7.9v7.9h-7.9zM1676.18 33.9h0.5M1677.11 27.19h7.9v7.9h-7.9zM1680.81 31.14h0.5M1681.74 24.43h7.9v7.9h-7.9zM1685.44 28.38h0.5M1686.38 21.66h7.9v7.9h-7.9zM1690.08 25.61h0.5M1691.01 18.9h7.9v7.9h-7.9zM1694.71 22.85h0.5" fill="none" stroke="#ff0000" stroke-width="0.64"/>
<path d="M958.92 490.35a3.95 3.95 0 1 0 7.9 0a3.95 3.95 0 1 0 -7.9 0zM962.62 490.35h0.5M963.55 478.08a3.95 3.95 0 1 0 7.9 0a3.95 3.95 0 1 0 -7.9 0zM967.25 478.08h0.5M968.18 469.35a3.95 3.95 0 1 0 7.9 0a3.95 3.95 0 1 0 -7.9 0zM971.88 469.35h0.5M972.82 462.16a3.95 3.95 0 1 0 7.9 0a3.95 3.95 0 1 0 -7.9 0zM976.52 462.16h0.5M977.45 456.66a3.95 3.95 0 1 0 7.9 0a3.95 3.95 0 1 0 -7.9 0zM981.15 456.66h0.5M982.08 451.93a3.95 3.95 0 1 0 7.9 0a3.95 3.95 0 1 0 -7.9 0zM985.78 451.93h0.5M986.72 447.79a3.95 3.95 0 1 0 7.9 0a3.95 3.95 0 1 0 -7.9 0zM990.42 447.79h0.5M991.35 444.11a3.95 3.95 0 1 0 7.9 0a3.95 3.95 0 1 0 -7.9 0zM995.05 444.11h0.5M995.99 440.78a3.95 3.95 0 1 0 7.9 0a3.95 3.95 0 1 0 -7.9 0zM999.69 440.78h0.5M1000.62 437.74a3.95 3.95 0 1 0 7.9 0a3.95 3.95 0 1 0 -7.9 0zM1004.32 437.74h0.5M1005.25 434.92a3.95 3.95 0 1 0 7.9 0a3.95 3.95 0 1 0 -7.9 0zM1008.95 434.92h0.5M1009.89 432.29a3.95 3.95 0 1 0 7.9 0a3.95 3.95 0 1 0 -7.9 0zM1013.59 432.29h0.5M1014.52 429.82a3.95 3.95 0 1 0 7.9 0a3.95 3.95 0 1 0 -7.9 0zM1018.22 429.82h0.5M1019.15 427.49a3.95 3.95 0 1 0 7.9 0a3.95 3.95 0 1 0 -7.9 0zM1022.85 427.49h0.5M1023.79 425.27a3.95 3.95 0 1 0 7.9 0a3.95 3.95 0 1 0 -7.9 0zM1027.49 425.27h0.5M1028.42 423.15a3.95 3.95 0 1 0 7.9 0a3.95 3.95 0 1 0 -7.9 0zM1032.12 423.15h0.5M1033.05 421.12a3.95 3.95 0 1 0 7.9 0a3.95 3.95 0 1 0 -7.9 0zM1036.75 421.12h0.5M1037.69 419.11a3.95 3.95 0 1 0 7.9 0a3.95 3.95 0 1 0 -7.9 0zM1041.39 419.11h0.5M1042.32 417.17a3.95 3.95 0 1 0 7.9 0a3.95 3.95 0 1 0 -7.9 0zM1046.02 417.17h0.5M1046.95 415.29a3.95 3.95 0 1 0 7.9 0a3.95 3.95 0 1 0 -7.9 0zM1050.65 415.29h0.5M1051.59 413.47a3.95 3.95 0 1 0 7.9 0a3.95 3.95 0 1 0 -7.9 0zM1055.29 413.47h0.5M1056.22 411.69a3.95 3.95 0 1 0 7.9 0a3.95 3.95 0 1 0 -7.9 0zM1059.92 411.69h0.5M1060.85 409.95a3.95 3.95 0 1 0 7.9 0a3.95 3.95 0 1 0 -7.9 0zM1064.55 409.95h0.5M1065.49 408.26a3.95 3.95 0 1 0 7.9 0a3.95 3.95 0 1 0 -7.9 0zM1069.19 408.26h0.5M1070.12 406.59a3.95 3.95 0 1 0 7.9 0a3.95 3.95 0 1 0 -7.9 0zM1073.82 406.59h0.5M1074.75 404.96a3.95 3.95 0 1 0 7.9 0a3.95 3.95 0 1 0 -7.9 0zM1078.45 404.96h0.5M1079.39 403.36a3.95 3.95 0 1 0 7.9 0a3.95 3.95 0 1 0 -7.9 0zM1083.09 403.36h0.5M1084.02 401.78a3.95 3.95 0 1 0 7.9 0a3.95 3.95 0 1 0 -7.9 0zM1087.72 401.78h0.5M1088.65 400.22a3.95 3.95 0 1 0 7.9 0a3.95 3.95 0 1 0 -7.9 0zM1092.36 400.22h0.5M1093.29 398.69a3.95 3.95 0 1 0 7.9 0a3.95 3.95 0 1 0 -7.9 0zM1096.99 398.69h0.5M1097.92 397.17a3.95 3.95 0 1 0 7.9 0a3.95 3.95 0 1 0 -7.9 0zM1101.62 397.17h0.5M1102.56 395.67a3.95 3.95 0 1 0 7.9 0a3.95 3.95 0 1 0 -7.9 0zM1106.26 395.67h0.5M1107.19 394.19a3.95 3.95 0 1 0 7.9 0a3.95 3.95 0 1 0 -7.9 0zM1110.89 394.19h0.5M1111.82 392.72a3.95 3.95 0 1 0 7.9 0a3.95 3.95 0 1 0 -7.9 0zM1115.52 392.72h0.5M1116.46 391.27a3.95 3.95 0 1 0 7.9 0a3.95 3.95 0 1 0 -7.9 0zM1120.16 391.27h0.5M1121.09 389.83a3.95 3.95 0 1 0 7.9 0a3.95 3.95 0 1 0 -7.9 0zM1124.79 389.83h0.5M1125.72 388.4a3.95 3.95 0 1 0 7.9 0a3.95 3.95 0 1 0 -7.9 0zM1129.42 388.4h0.5M1130.36 386.98a3.95 3.95 0 1 0 7.9 0a3.95 3.95 0 1 0 -7.9 0zM1134.06 386.98h0.5M1134.99 385.57a3.95 3.95 0 1 0 7.9 0a3.95 3.95 0 1 0 -7.9 0zM1138.69 385.57h0.5M1139.62 384.17a3.95 3.95 0 1 0 7.9 0a3.95 3.95 0 1 0 -7.9 0zM1143.32 384.17h0.5M1144.26 382.77a3.95 3.95 0 1 0 7.9 0a3.95 3.95 0 1 0 -7.9 0zM1147.96 382.77h0.5M1148.89 381.39a3.95 3.95 0 1 0 7.9 0a3.95 3.95 0 1 0 -7.9 0zM1152.59 381.39h0.5M1153.52 380.01a3.95 3.95 0 1 0 7.9 0a3.95 3.95 0 1 0 -7.9 0zM1157.22 380.01h0.5M1158.16 378.63a3.95 3.95 0 1 0 7.9 0a3.95 3.95 0 1 0 -7.9 0zM1161.86 378.63h0.5M1162.79 377.27a3.95 3.95 0 1 0 7.9 0a3.95 3.95 0 1 0 -7.9 0zM1166.49 377.27h0.5M1167.42 375.91a3.95 3.95 0 1 0 7.9 0a3.95 3.95 0 1 0 -7.9 0zM1171.12 375.91h0.5M1172.06 374.55a3.95 3.95 0 1 0 7.9 0a3.95 3.95 0 1 0 -7.9 0zM1175.76 374.55h0.5M1176.69 373.2a3.95 3.95 0 1 0 7.9 0a3.95 3.95 0 1 0 -7.9 0zM1180.39 373.2h0.5M1181.33 371.85a3.95 3.95 0 1 0 7.9 0a3.95 3.95 0 1 0 -7.9 0zM1185.03 371.85h0.5M1185.96 370.51a3.95 3.95 0 1 0 7.9 0a3.95 3.95 0 1 0 -7.9 0zM1189.66 370.51h0.5M1190.59 369.17a3.95 3.95 0 1 0 7.9 0a3.95 3.95 0 1 0 -7.9 0zM1194.29 369.17h0.5M1195.23 367.83a3.95 3.95 0 1 0 7.9 0a3.95 3.95 0 1 0 -7.9 0zM1198.93 367.83h0.5M1199.86 366.5a3.95 3.95 0 1 0 7.9 0a3.95 3.95 0 1 0 -7.9 0zM1203.56 366.5h0.5M1204.49 365.17a3.95 3.95 0 1 0 7.9 0a3.95 3.95 0 1 0 -7.9 0zM1208.19 365.17h0.5M1209.13 363.85a3.95 3.95 0 1 0 7.9 0a3.95 3.95 0 1 0 -7.9 0zM1212.83 363.85h0.5M1213.76 362.52a3.95 3.95 0 1 0 7.9 0a3.95 3.95 0 1 0 -7.9 0zM1217.46 362.52h0.5M1218.39 361.2a3.95 3.95 0 1 0 7.9 0a3.95 3.95 0 1 0 -7.9 0zM1222.09 361.2h0.5M1223.03 359.88a3.95 3.95 0 1 0 7.9 0a3.95 3.95 0 1 0 -7.9 0zM1226.73 359.88h0.5M1227.66 358.57a3.95 3.95 0 1 0 7.9 0a3.95 3.95 0 1 0 -7.9 0zM1231.36 358.57h0.5M1232.29 357.23a3.95 3.95 0 1 0 7.9 0a3.95 3.95 0 1 0 -7.9 0zM1235.99 357.23h0.5M1236.93 355.8a3.95 3.95 0 1 0 7.9 0a3.95 3.95 0 1 0 -7.9 0zM1240.63 355.8h0.5M1241.56 354.37a3.95 3.95 0 1 0 7.9 0a3.95 3.95 0 1 0 -7.9 0zM1245.26 354.37h0.5M1246.19 352.94a3.95 3.95 0 1 0 7.9 0a3.95 3.95 0 1 0 -7.9 0zM1249.89 352.94h0.5M1250.83 351.51a3.95 3.95 0 1 0 7.9 0a3.95 3.95 0 1 0 -7.9 0zM1254.53 351.51h0.5M1255.46 350.09a3.95 3.95 0 1 0 7.9 0a3.95 3.95 0 1 0 -7.9 0zM1259.16 350.09h0.5M1260.09 348.67a3.95 3.95 0 1 0 7.9 0a3.95 3.95 0 1 0 -7.9 0zM1263.79 348.67h0.5M1264.73 347.24a3.95 3.95 0 1 0 7.9 0a3.95 3.95 0 1 0 -7.9 0zM1268.43 347.24h0.5M1269.36 345.82a3.95 3.95 0 1 0 7.9 0a3.95 3.95 0 1 0 -7.9 0zM1273.06 345.82h0.5M1273.99 344.4a3.95 3.95 0 1 0 7.9 0a3.95 3.95 0 1 0 -7.9 0zM1277.69 344.4h0.5M1278.63 342.98a3.95 3.95 0 1 0 7.9 0a3.95 3.95 0 1 0 -7.9 0zM1282.33 342.98h0.5M1283.26 341.57a3.95 3.95 0 1 0 7.9 0a3.95 3.95 0 1 0 -7.9 0zM1286.96 341.57h0.5M1287.9 340.15a3.95 3.95 0 1 0 7.9 0a3.95 3.95 0 1 0 -7.9 0zM1291.6 340.15h0.5M1292.53 338.74a3.95 3.95 0 1 0 7.9 0a3.95 3.95 0 1 0 -7.9 0zM1296.23 338.74h0.5M1297.16 337.32a3.95 3.95 0 1 0 7.9 0a3.95 3.95 0 1 0 -7.9 0zM1300.86 337.32h0.5M1301.8 335.91a3.95 3.95 0 1 0 7.9 0a3.95 3.95 0 1 0 -7.9 0zM1305.5 335.91h0.5M1306.43 334.49a3.95 3.95 0 1 0 7.9 0a3.95 3.95 0 1 0 -7.9 0zM1310.13 334.49h0.5M1311.06 333.08a3.95 3.95 0 1 0 7.9 0a3.95 3.95 0 1 0 -7.9 0zM1314.76 333.08h0.5M1315.7 331.67a3.95 3.95 0 1 0 7.9 0a3.95 3.95 0 1 0 -7.9 0zM1319.4 331.67h0.5M1320.33 330.26a3.95 3.95 0 1 0 7.9 0a3.95 3.95 0 1 0 -7.9 0zM1324.03 330.26h0.5M1324.96 328.85a3.95 3.95 0 1 0 7.9 0a3.95 3.95 0 1 0 -7.9 0zM1328.66 328.85h0.5M1329.6 327.44a3.95 3.95 0 1 0 7.9 0a3.95 3.95 0 1 0 -7.9 0zM1333.3 327.44h0.5M1334.23 326.03a3.95 3.95 0 1 0 7.9 0a3.95 3.95 0 1 0 -7.9 0zM1337.93 326.03h0.5M1338.86 324.62a3.95 3.95 0 1 0 7.9 0a3.95 3.95 0 1 0 -7.9 0zM1342.56 324.62h0.5M1343.5 323.21a3.95 3.95 0 1 0 7.9 0a3.95 3.95 0 1 0 -7.9 0zM1347.2 323.21h0.5M1348.13 321.81a3.95 3.95 0 1 0 7.9 0a3.95 3.95 0 1 0 -7.9 0zM1351.83 321.81h0.5M1352.76 320.4a3.95 3.95 0 1 0 7.9 0a3.95 3.95 0 1 0 -7.9 0zM1356.46 320.4h0.5M1357.4 318.99a3.95 3.95 0 1 0 7.9 0a3.95 3.95 0 1 0 -7.9 0zM1361.1 318.99h0.5M1362.03 317.58a3.95 3.95 0 1 0 7.9 0a3.95 3.95 0 1 0 -7.9 0zM1365.73 317.58h0.5M1366.66 316.18a3.95 3.95 0 1 0 7.9 0a3.95 3.95 0 1 0 -7.9 0zM1370.37 316.18h0.5M1371.3 314.77a3.95 3.95 0 1 0 7.9 0a3.95 3.95 0 1 0 -7.9 0zM1375 314.77h0.5M1375.93 313.37a3.95 3.95 0 1 0 7.9 0a3.95 3.95 0 1 0 -7.9 0zM1379.63 313.37h0.5M1380.57 311.96a3.95 3.95 0 1 0 7.9 0a3.95 3.95 0 1 0 -7.9 0zM1384.27 311.96h0.5M1385.2 310.56a3.95 3.95 0 1 0 7.9 0a3.95 3.95 0 1 0 -7.9 0zM1388.9 310.56h0.5M1389.83 309.15a3.95 3.95 0 1 0 7.9 0a3.95 3.95 0 1 0 -7.9 0zM1393.53 309.15h0.5M1394.47 307.75a3.95 3.95 0 1 0 7.9 0a3.95 3.95 0 1 0 -7.9 0zM1398.17 307.75h0.5M1399.1 306.37a3.95 3.95 0 1 0 7.9 0a3.95 3.95 0 1 0 -7.9 0zM1402.8 306.37h0.5M1403.73 305.01a3.95 3.95 0 1 0 7.9 0a3.95 3.95 0 1 0 -7.9 0zM1407.43 305.01h0.5M1408.37 303.65a3.95 3.95 0 1 0 7.9 0a3.95 3.95 0 1 0 -7.9 0zM1412.07 303.65h0.5M1413 302.3a3.95 3.95 0 1 0 7.9 0a3.95 3.95 0 1 0 -7.9 0zM1416.7 302.3h0.5M1417.63 300.94a3.95 3.95 0 1 0 7.9 0a3.95 3.95 0 1 0 -7.9 0zM1421.33 300.94h0.5M1422.27 299.58a3.95 3.95 0 1 0 7.9 0a3.95 3.95 0 1 0 -7.9 0zM1425.97 299.58h0.5M1426.9 298.23a3.95 3.95 0 1 0 7.9 0a3.95 3.95 0 1 0 -7.9 0zM1430.6 298.23h0.5M1431.53 296.87a3.95 3.95 0 1 0 7.9 0a3.95 3.95 0 1 0 -7.9 0zM1435.23 296.87h0.5M1436.17 295.52a3.95 3.95 0 1 0 7.9 0a3.95 3.95 0 1 0 -7.9 0zM1439.87 295.52h0.5M1440.8 294.16a3.95 3.95 0 1 0 7.9 0a3.95 3.95 0 1 0 -7.9 0zM1444.5 294.16h0.5M1445.43 292.81a3.95 3.95 0 1 0 7.9 0a3.95 3.95 0 1 0 -7.9 0zM1449.13 292.81h0.5M1450.07 291.45a3.95 3.95 0 1 0 7.9 0a3.95 3.95 0 1 0 -7.9 0zM1453.77 291.45h0.5M1454.7 290.09a3.95 3.95 0 1 0 7.9 0a3.95 3.95 0 1 0 -7.9 0zM1458.4 290.09h0.5M1459.33 288.74a3.95 3.95 0 1 0 7.9 0a3.95 3.95 0 1 0 -7.9 0zM1463.03 288.74h0.5M1463.97 287.38a3.95 3.95 0 1 0 7.9 0a3.95 3.95 0 1 0 -7.9 0zM1467.67 287.38h0.5M1468.6 286.03a3.95 3.95 0 1 0 7.9 0a3.95 3.95 0 1 0 -7.9 0zM1472.3 286.03h0.5M1473.24 284.67a3.95 3.95 0 1 0 7.9 0a3.95 3.95 0 1 0 -7.9 0zM1476.94 284.67h0.5M1477.87 283.32a3.95 3.95 0 1 0 7.9 0a3.95 3.95 0 1 0 -7.9 0zM1481.57 283.32h0.5M1482.5 281.96a3.95 3.95 0 1 0 7.9 0a3.95 3.95 0 1 0 -7.9 0zM1486.2 281.96h0.5M1487.14 280.61a3.95 3.95 0 1 0 7.9 0a3.95 3.95 0 1 0 -7.9 0zM1490.84 280.61h0.5M1491.77 279.26a3.95 3.95 0 1 0 7.9 0a3.95 3.95 0 1 0 -7.9 0zM1495.47 279.26h0.5M1496.4 277.9a3.95 3.95 0 1 0 7.9 0a3.95 3.95 0 1 0 -7.9 0zM1500.1 277.9h0.5M1501.04 276.55a3.95 3.95 0 1 0 7.9 0a3.95 3.95 0 1 0 -7.9 0zM1504.74 276.55h0.5M1505.67 275.19a3.95 3.95 0 1 0 7.9 0a3.95 3.95 0 1 0 -7.9 0zM1509.37 275.19h0.5M1510.3 273.84a3.95 3.95 0 1 0 7.9 0a3.95 3.95 0 1 0 -7.9 0zM1514 273.84h0.5M1514.94 272.48a3.95 3.95 0 1 0 7.9 0a3.95 3.95 0 1 0 -7.9 0zM1518.64 272.48h0.5M1519.57 271.13a3.95 3.95 0 1 0 7.9 0a3.95 3.95 0 1 0 -7.9 0zM1523.27 271.13h0.5M1524.2 269.77a3.95 3.95 0 1 0 7.9 0a3.95 3.95 0 1 0 -7.9 0zM1527.9 269.77h0.5M1528.84 268.42a3.95 3.95 0 1 0 7.9 0a3.95 3.95 0 1 0 -7.9 0zM1532.54 268.42h0.5M1533.47 267.07a3.95 3.95 0 1 0 7.9 0a3.95 3.95 0 1 0 -7.9 0zM1537.17 267.07h0.5M1538.1 265.71a3.95 3.95 0 1 0 7.9 0a3.95 3.95 0 1 0 -7.9 0zM1541.8 265.71h0.5M1542.74 264.36a3.95 3.95 0 1 0 7.9 0a3.95 3.95 0 1 0 -7.9 0zM1546.44 264.36h0.5M1547.37 263a3.95 3.95 0 1 0 7.9 0a3.95 3.95 0 1 0 -7.9 0zM1551.07 263h0.5M1552 261.65a3.95 3.95 0 1 0 7.9 0a3.95 3.95 0 1 0 -7.9 0zM1555.7 261.65h0.5M1556.64 260.29a3.95 3.95 0 1 0 7.9 0a3.95 3.95 0 1 0 -7.9 0zM1560.34 260.29h0.5M1561.27 258.94a3.95 3.95 0 1 0 7.9 0a3.95 3.95 0 1 0 -7.9 0zM1564.97 258.94h0.5M1565.91 257.59a3.95 3.95 0 1 0 7.9 0a3.95 3.95 0 1 0 -7.9 0zM1569.61 257.59h0.5M1570.54 256.23a3.95 3.95 0 1 0 7.9 0a3.95 3.95 0 1 0 -7.9 0zM1574.24 256.23h0.5M1575.17 254.88a3.95 3.95 0 1 0 7.9 0a3.95 3.95 0 1 0 -7.9 0zM1578.87 254.88h0.5M1579.81 253.52a3.95 3.95 0 1 0 7.9 0a3.95 3.95 0 1 0 -7.9 0zM1583.51 253.52h0.5M1584.44 252.17a3.95 3.95 0 1 0 7.9 0a3.95 3.95 0 1 0 -7.9 0zM1588.14 252.17h0.5M1589.07 250.82a3.95 3.95 0 1 0 7.9 0a3.95 3.95 0 1 0 -7.9 0zM1592.77 250.82h0.5M1593.71 249.46a3.95 3.95 0 1 0 7.9 0a3.95 3.95 0 1 0 -7.9 0zM1597.41 249.46h0.5M1598.34 248.11a3.95 3.95 0 1 0 7.9 0a3.95 3.95 0 1 0 -7.9 0zM1602.04 248.11h0.5M1602.97 246.75a3.95 3.95 0 1 0 7.9 0a3.95 3.95 0 1 0 -7.9 0zM1606.67 246.75h0.5M1607.61 245.4a3.95 3.95 0 1 0 7.9 0a3.95 3.95 0 1 0 -7.9 0zM1611.31 245.4h0.5M1612.24 244.05a3.95 3.95 0 1 0 7.9 0a3.95 3.95 0 1 0 -7.9 0zM1615.94 244.05h0.5M1616.87 242.69a3.95 3.95 0 1 0 7.9 0a3.95 3.95 0 1 0 -7.9 0zM1620.57 242.69h0.5M1621.51 241.34a3.95 3.95 0 1 0 7.9 0a3.95 3.95 0 1 0 -7.9 0zM1625.21 241.34h0.5M1626.14 239.98a3.95 3.95 0 1 0 7.9 0a3.95 3.95 0 1 0 -7.9 0zM1629.84 239.98h0.5M1630.77 238.63a3.95 3.95 0 1 0 7.9 0a3.95 3.95 0 1 0 -7.9 0zM1634.47 238.63h0.5M1635.41 237.28a3.95 3.95 0 1 0 7.9 0a3.95 3.95 0 1 0 -7.9 0zM1639.11 237.28h0.5M1640.04 235.92a3.95 3.95 0 1 0 7.9 0a3.95 3.95 0 1 0 -7.9 0zM1643.74 235.92h0.5M1644.67 234.57a3.95 3.95 0 1 0 7.9 0a3.95 3.95 0 1 0 -7.9 0zM1648.38 234.57h0.5M1649.31 233.21a3.95 3.95 0 1 0 7.9 0a3.95 3.95 0 1 0 -7.9 0zM1653.01 233.21h0.5M1653.94 231.86a3.95 3.95 0 1 0 7.9 0a3.95 3.95 0 1 0 -7.9 0zM1657.64 231.86h0.5M1658.58 230.51a3.95 3.95 0 1 0 7.9 0a3.95 3.95 0 1 0 -7.9 0zM1662.28 230.51h0.5M1663.21 229.15a3.95 3.95 0 1 0 7.9 0a3.95 3.95 0 1 0 -7.9 0zM1666.91 229.15h0.5M1667.84 227.8a3.95 3.95 0 1 0 7.9 0a3.95 3.95 0 1 0 -7.9 0zM1671.54 227.8h0.5M1672.48 226.44a3.95 3.95 0 1 0 7.9 0a3.95 3.95 0 1 0 -7.9 0zM1676.18 226.44h0.5M1677.11 225.09a3.95 3.95 0 1 0 7.9 0a3.95 3.95 0 1 0 -7.9 0zM1680.81 225.09h0.5M1681.74 223.74a3.95 3.95 0 1 0 7.9 0a3.95 3.95 0 1 0 -7.9 0zM1685.44 223.74h0.5M1686.38 222.38a3.95 3.95 0 1 0 7.9 0a3.95 3.95 0 1 0 -7.9 0zM1690.08 222.38h0.5M1691.01 221.03a3.95 3.95 0 1 0 7.9 0a3.95 3.95 0 1 0 -7.9 0zM1694.71 221.03h0.5" fill="none" stroke="#00ff00" stroke-width="0.64"/>
<path d="M962.87 485.96l-3.95 6.4h7.9zM962.62 490.38h0.5M967.5 473.72l-3.95 6.4h7.9zM967.25 478.15h0.5M972.13 465.06l-3.95 6.4h7.9zM971.88 469.48h0.5M976.77 457.92l-3.95 6.4h7.9zM976.52 462.34h0.5M981.4 452.5l-3.95 6.4h7.9zM981.15 456.92h0.5M986.03 447.86l-3.95 6.4h7.9zM985.78 452.29h0.5M990.67 443.84l-3.95 6.4h7.9zM990.42 448.26h0.5M995.3 440.28l-3.95 6.4h7.9zM995.05 444.7h0.5M999.94 437.09l-3.95 6.4h7.9zM999.69 441.51h0.5M1004.57 434.19l-3.95 6.4h7.9zM1004.32 438.61h0.5M1009.2 431.54l-3.95 6.4h7.9zM1008.95 435.96h0.5M1013.84 429.09l-3.95 6.4h7.9zM1013.59 433.51h0.5M1018.47 426.81l-3.95 6.4h7.9zM1018.22 431.23h0.5M1023.1 424.68l-3.95 6.4h7.9zM1022.85 429.1h0.5M1027.74 422.68l-3.95 6.4h7.9zM1027.49 427.1h0.5M1032.37 420.79l-3.95 6.4h7.9zM1032.12 425.21h0.5M1037 418.99l-3.95 6.4h7.9zM1036.75 423.42h0.5M1041.64 417.29l-3.95 6.4h7.9zM1041.39 421.71h0.5M1046.27 415.64l-3.95 6.4h7.9zM1046.02 420.06h0.5M1050.9 414.04l-3.95 6.4h7.9zM1050.65 418.47h0.5M1055.54 412.51l-3.95 6.4h7.9zM1055.29 416.93h0.5M1060.17 411.03l-3.95 6.4h7.9zM1059.92 415.46h0.5M1064.8 409.61l-3.95 6.4h7.9zM1064.55 414.04h0.5M1069.44 408.24l-3.95 6.4h7.9zM1069.19 412.67h0.5M1074.07 406.92l-3.95 6.4h7.9zM1073.82 411.34h0.5M1078.7 405.63l-3.95 6.4h7.9zM1078.45 410.05h0.5M1083.34 404.38l-3.95 6.4h7.9zM1083.09 408.8h0.5M1087.97 403.17l-3.95 6.4h7.9zM1087.72 407.59h0.5M1092.61 401.98l-3.95 6.4h7.9zM1092.36 406.41h0.5M1097.24 400.83l-3.95 6.4h7.9zM1096.99 405.25h0.5M1101.87 399.7l-3.95 6.4h7.9zM1101.62 404.13h0.5M1106.51 398.6l-3.95 6.4h7.9zM1106.26 403.03h0.5M1111.14 397.53l-3.95 6.4h7.9zM1110.89 401.95h0.5M1115.77 396.48l-3.95 6.4h7.9zM1115.52 400.9h0.5M1120.41 395.44l-3.95 6.4h7.9zM1120.16 399.87h0.5M1125.04 394.43l-3.95 6.4h7.9zM1124.79 398.85h0.5M1129.67 393.43l-3.95 6.4h7.9zM1129.42 397.86h0.5M1134.31 392.46l-3.95 6.4h7.9zM1134.06 396.88h0.5M1138.94 391.49l-3.95 6.4h7.9zM1138.69 395.92h0.5M1143.57 390.55l-3.95 6.4h7.9zM1143.32 394.97h0.5M1148.21 389.61l-3.95 6.4h7.9zM1147.96 394.04h0.5M1152.84 388.69l-3.95 6.4h7.9zM1152.59 393.12h0.5M1157.47 387.79l-3.95 6.4h7.9zM1157.22 392.21h0.5M1162.11 386.89l-3.95 6.4h7.9zM1161.86 391.32h0.5M1166.74 386.01l-3.95 6.4h7.9zM1166.49 390.43h0.5M1171.37 385.14l-3.95 6.4h7.9zM1171.12 389.56h0.5M1176.01 384.27l-3.95 6.4h7.9zM1175.76 388.7h0.5M1180.64 383.42l-3.95 6.4h7.9zM1180.39 387.84h0.5M1185.28 382.58l-3.95 6.4h7.9zM1185.03 387h0.5M1189.91 381.74l-3.95 6.4h7.9zM1189.66 386.17h0.5M1194.54 380.91l-3.95 6.4h7.9zM1194.29 385.34h0.5M1199.18 380.09l-3.95 6.4h7.9zM1198.93 384.52h0.5M1203.81 379.28l-3.95 6.4h7.9zM1203.56 383.71h0.5M1208.44 378.48l-3.95 6.4h7.9zM1208.19 382.9h0.5M1213.08 377.68l-3.95 6.4h7.9zM1212.83 382.1h0.5M1217.71 376.89l-3.95 6.4h7.9zM1217.46 381.31h0.5M1222.34 376.1l-3.95 6.4h7.9zM1222.09 380.52h0.5M1226.98 375.32l-3.95 6.4h7.9zM1226.73 379.74h0.5M1231.61 374.54l-3.95 6.4h7.9zM1231.36 378.97h0.5M1236.24 373.77l-3.95 6.4h7.9zM1235.99 378.2h0.5M1240.88 373.01l-3.95 6.4h7.9zM1240.63 377.43h0.5M1245.51 372.25l-3.95 6.4h7.9zM1245.26 376.67h0.5M1250.14 371.49l-3.95 6.4h7.9zM1249.89 375.92h0.5M1254.78 370.74l-3.95 6.4h7.9zM1254.53 375.17h0.5M1259.41 370l-3.95 6.4h7.9zM1259.16 374.42h0.5M1264.04 369.25l-3.95 6.4h7.9zM1263.79 373.68h0.5M1268.68 368.51l-3.95 6.4h7.9zM1268.43 372.94h0.5M1273.31 367.78l-3.95 6.4h7.9zM1273.06 372.2h0.5M1277.94 367.05l-3.95 6.4h7.9zM1277.69 371.47h0.5M1282.58 366.32l-3.95 6.4h7.9zM1282.33 370.74h0.5M1287.21 365.59l-3.95 6.4h7.9zM1286.96 370.02h0.5M1291.85 364.87l-3.95 6.4h7.9zM1291.6 369.29h0.5M1296.48 364.15l-3.95 6.4h7.9zM1296.23 368.57h0.5M1301.11 363.43l-3.95 6.4h7.9zM1300.86 367.86h0.5M1305.75 362.72l-3.95 6.4h7.9zM1305.5 367.14h0.5M1310.38 362.01l-3.95 6.4h7.9zM1310.13 366.43h0.5M1315.01 361.3l-3.95 6.4h7.9zM1314.76 365.72h0.5M1319.65 360.59l-3.95 6.4h7.9zM1319.4 365.02h0.5M1324.28 359.89l-3.95 6.4h7.9zM1324.03 364.31h0.5M1328.91 359.19l-3.95 6.4h7.9zM1328.66 363.61h0.5M1333.55 358.49l-3.95 6.4h7.9zM1333.3 362.91h0.5M1338.18 357.79l-3.95 6.4h7.9zM1337.93 362.21h0.5M1342.81 357.09l-3.95 6.4h7.9zM1342.56 361.52h0.5M1347.45 356.4l-3.95 6.4h7.9zM1347.2 360.82h0.5M1352.08 355.71l-3.95 6.4h7.9zM1351.83 360.13h0.5M1356.71 355.02l-3.95 6.4h7.9zM1356.46 359.44h0.5M1361.35 354.33l-3.95 6.4h7.9zM1361.1 358.75h0.5M1365.98 353.64l-3.95 6.4h7.9zM1365.73 358.06h0.5M1370.62 352.94l-3.95 6.4h7.9zM1370.37 357.37h0.5M1375.25 352.2l-3.95 6.4h7.9zM1375 356.62h0.5M1379.88 351.45l-3.95 6.4h7.9zM1379.63 355.88h0.5M1384.52 350.71l-3.95 6.4h7.9zM1384.27 355.13h0.5M1389.15 349.97l-3.95 6.4h7.9zM1388.9 354.39h0.5M1393.78 349.23l-3.95 6.4h7.9zM1393.53 353.65h0.5M1398.42 348.49l-3.95 6.4h7.9zM1398.17 352.91h0.5M1403.05 347.75l-3.95 6.4h7.9zM1402.8 352.18h0.5M1407.68 347.01l-3.95 6.4h7.9zM1407.43 351.44h0.5M1412.32 346.28l-3.95 6.4h7.9zM1412.07 350.7h0.5M1416.95 345.55l-3.95 6.4h7.9zM1416.7 349.97h0.5M1421.58 344.81l-3.95 6.4h7.9zM1421.33 349.24h0.5M1426.22 344.08l-3.95 6.4h7.9zM1425.97 348.5h0.5M1430.85 343.35l-3.95 6.4h7.9zM1430.6 347.77h0.5M1435.48 342.62l-3.95 6.4h7.9zM1435.23 347.04h0.5M1440.12 341.89l-3.95 6.4h7.9zM1439.87 346.31h0.5M1444.75 341.16l-3.95 6.4h7.9zM1444.5 345.59h0.5M1449.38 340.44l-3.95 6.4h7.9zM1449.13 344.86h0.5M1454.02 339.71l-3.95 6.4h7.9zM1453.77 344.13h0.5M1458.65 338.98l-3.95 6.4h7.9zM1458.4 343.41h0.5M1463.28 338.26l-3.95 6.4h7.9zM1463.03 342.68h0.5M1467.92 337.54l-3.95 6.4h7.9zM1467.67 341.96h0.5M1472.55 336.81l-3.95 6.4h7.9zM1472.3 341.24h0.5M1477.19 336.09l-3.95 6.4h7.9zM1476.94 340.51h0.5M1481.82 335.37l-3.95 6.4h7.9zM1481.57 339.79h0.5M1486.45 334.65l-3.95 6.4h7.9zM1486.2 339.07h0.5M1491.09 333.93l-3.95 6.4h7.9zM1490.84 338.35h0.5M1495.72 333.21l-3.95 6.4h7.9zM1495.47 337.63h0.5M1500.35 332.49l-3.95 6.4h7.9zM1500.1 336.91h0.5M1504.99 331.77l-3.95 6.4h7.9zM1504.74 336.19h0.5M1509.62 331.05l-3.95 6.4h7.9zM1509.37 335.48h0.5M1514.25 330.33l-3.95 6.4h7.9zM1514 334.76h0.5M1518.89 329.62l-3.95 6.4h7.9zM1518.64 334.04h0.5M1523.52 328.9l-3.95 6.4h7.9zM1523.27 333.33h0.5M1528.15 328.19l-3.95 6.4h7.9zM1527.9 332.61h0.5M1532.79 327.47l-3.95 6.4h7.9zM1532.54 331.9h0.5M1537.42 326.76l-3.95 6.4h7.9zM1537.17 331.18h0.5M1542.05 326.04l-3.95 6.4h7.9zM1541.8 330.47h0.5M1546.69 325.33l-3.95 6.4h7.9zM1546.44 329.75h0.5M1551.32 324.61l-3.95 6.4h7.9zM1551.07 329.04h0.5M1555.95 323.9l-3.95 6.4h7.9zM1555.7 328.33h0.5M1560.59 323.19l-3.95 6.4h7.9zM1560.34 327.61h0.5M1565.22 322.48l-3.95 6.4h7.9zM1564.97 326.9h0.5M1569.86 321.76l-3.95 6.4h7.9zM1569.61 326.19h0.5M1574.49 321.05l-3.95 6.4h7.9zM1574.24 325.48h0.5M1579.12 320.34l-3.95 6.4h7.9zM1578.87 324.77h0.5M1583.76 319.63l-3.95 6.4h7.9zM1583.51 324.06h0.5M1588.39 318.92l-3.95 6.4h7.9zM1588.14 323.34h0.5M1593.02 318.21l-3.95 6.4h7.9zM1592.77 322.63h0.5M1597.66 317.5l-3.95 6.4h7.9zM1597.41 321.92h0.5M1602.29 316.79l-3.95 6.4h7.9zM1602.04 321.22h0.5M1606.92 316.08l-3.95 6.4h7.9zM1606.67 320.51h0.5M1611.56 315.37l-3.95 6.4h7.9zM1611.31 319.8h0.5M1616.19 314.66l-3.95 6.4h7.9zM1615.94 319.09h0.5M1620.82 313.96l-3.95 6.4h7.9zM1620.57 318.38h0.5M1625.46 313.25l-3.95 6.4h7.9zM1625.21 317.67h0.5M1630.09 312.54l-3.95 6.4h7.9zM1629.84 316.96h0.5M1634.72 311.83l-3.95 6.4h7.9zM1634.47 316.26h0.5M1639.36 311.12l-3.95 6.4h7.9zM1639.11 315.55h0.5M1643.99 310.42l-3.95 6.4h7.9zM1643.74 314.84h0.5M1648.62 309.71l-3.95 6.4h7.9zM1648.38 314.13h0.5M1653.26 309l-3.95 6.4h7.9zM1653.01 313.43h0.5M1657.89 308.3l-3.95 6.4h7.9zM1657.64 312.72h0.5M1662.53 307.59l-3.95 6.4h7.9zM1662.28 312.01h0.5M1667.16 306.88l-3.95 6.4h7.9zM1666.91 311.31h0.5M1671.79 306.18l-3.95 6.4h7.9zM1671.54 310.6h0.5M1676.43 305.47l-3.95 6.4h7.9zM1676.18 309.89h0.5M1681.06 304.76l-3.95 6.4h7.9zM1680.81 309.19h0.5M1685.69 304.06l-3.95 6.4h7.9zM1685.44 308.48h0.5M1690.33 303.35l-3.95 6.4h7.9zM1690.08 307.78h0.5M1694.96 302.65l-3.95 6.4h7.9zM1694.71 307.07h0.5" fill="none" stroke="#0000ff" stroke-width="0.64"/>
<path d="M962.87 494.81l-3.95 -6.4h7.9zM962.62 490.39h0.5M967.5 482.59l-3.95 -6.4h7.9zM967.25 478.17h0.5M972.13 473.95l-3.95 -6.4h7.9zM971.88 469.52h0.5M976.77 466.82l-3.95 -6.4h7.9zM976.52 462.4h0.5M981.4 461.43l-3.95 -6.4h7.9zM981.15 457.01h0.5M986.03 456.83l-3.95 -6.4h7.9zM985.78 452.41h0.5M990.67 452.84l-3.95 -6.4h7.9zM990.42 448.42h0.5M995.3 449.33l-3.95 -6.4h7.9zM995.05 444.9h0.5M999.94 446.18l-3.95 -6.4h7.9zM999.69 441.76h0.5M1004.57 443.34l-3.95 -6.4h7.9zM1004.32 438.91h0.5M1009.2 440.74l-3.95 -6.4h7.9zM1008.95 436.31h0.5M1013.84 438.35l-3.95 -6.4h7.9zM1013.59 433.92h0.5M1018.47 436.13l-3.95 -6.4h7.9zM1018.22 431.71h0.5M1023.1 434.07l-3.95 -6.4h7.9zM1022.85 429.65h0.5M1027.74 432.15l-3.95 -6.4h7.9zM1027.49 427.72h0.5M1032.37 430.34l-3.95 -6.4h7.9zM1032.12 425.91h0.5M1037 428.63l-3.95 -6.4h7.9zM1036.75 424.21h0.5M1041.64 427.02l-3.95 -6.4h7.9zM1041.39 422.59h0.5M1046.27 425.49l-3.95 -6.4h7.9zM1046.02 421.06h0.5M1050.9 423.99l-3.95 -6.4h7.9zM1050.65 419.57h0.5M1055.54 422.56l-3.95 -6.4h7.9zM1055.29 418.14h0.5M1060.17 421.2l-3.95 -6.4h7.9zM1059.92 416.78h0.5M1064.8 419.9l-3.95 -6.4h7.9zM1064.55 415.47h0.5M1069.44 418.64l-3.95 -6.4h7.9zM1069.19 414.22h0.5M1074.07 417.44l-3.95 -6.4h7.9zM1073.82 413.02h0.5M1078.7 416.28l-3.95 -6.4h7.9zM1078.45 411.86h0.5M1083.34 415.17l-3.95 -6.4h7.9zM1083.09 410.74h0.5M1087.97 414.09l-3.95 -6.4h7.9zM1087.72 409.67h0.5M1092.61 413.05l-3.95 -6.4h7.9zM1092.36 408.63h0.5M1097.24 412.05l-3.95 -6.4h7.9zM1096.99 407.62h0.5M1101.87 411.07l-3.95 -6.4h7.9zM1101.62 406.65h0.5M1106.51 410.13l-3.95 -6.4h7.9zM1106.26 405.71h0.5M1111.14 409.21l-3.95 -6.4h7.9zM1110.89 404.79h0.5M1115.77 408.33l-3.95 -6.4h7.9zM1115.52 403.9h0.5M1120.41 407.46l-3.95 -6.4h7.9zM1120.16 403.04h0.5M1125.04 406.62l-3.95 -6.4h7.9zM1124.79 402.2h0.5M1129.67 405.8l-3.95 -6.4h7.9zM1129.42 401.38h0.5M1134.31 405.01l-3.95 -6.4h7.9zM1134.06 400.58h0.5M1138.94 404.23l-3.95 -6.4h7.9zM1138.69 399.81h0.5M1143.57 403.47l-3.95 -6.4h7.9zM1143.32 399.05h0.5M1148.21 402.73l-3.95 -6.4h7.9zM1147.96 398.31h0.5M1152.84 402.01l-3.95 -6.4h7.9zM1152.59 397.59h0.5M1157.47 401.31l-3.95 -6.4h7.9zM1157.22 396.88h0.5M1162.11 400.62l-3.95 -6.4h7.9zM1161.86 396.2h0.5M1166.74 399.95l-3.95 -6.4h7.9zM1166.49 395.52h0.5M1171.37 399.29l-3.95 -6.4h7.9zM1171.12 394.86h0.5M1176.01 398.64l-3.95 -6.4h7.9zM1175.76 394.22h0.5M1180.64 398.01l-3.95 -6.4h7.9zM1180.39 393.58h0.5M1185.28 397.39l-3.95 -6.4h7.9zM1185.03 392.96h0.5M1189.91 396.78l-3.95 -6.4h7.9zM1189.66 392.36h0.5M1194.54 396.19l-3.95 -6.4h7.9zM1194.29 391.76h0.5M1199.18 395.6l-3.95 -6.4h7.9zM1198.93 391.18h0.5M1203.81 395.03l-3.95 -6.4h7.9zM1203.56 390.6h0.5M1208.44 394.47l-3.95 -6.4h7.9zM1208.19 390.04h0.5M1213.08 393.91l-3.95 -6.4h7.9zM1212.83 389.49h0.5M1217.71 393.37l-3.95 -6.4h7.9zM1217.46 388.95h0.5M1222.34 392.84l-3.95 -6.4h7.9zM1222.09 388.41h0.5M1226.98 392.31l-3.95 -6.4h7.9zM1226.73 387.89h0.5M1231.61 391.8l-3.95 -6.4h7.9zM1231.36 387.37h0.5M1236.24 391.29l-3.95 -6.4h7.9zM1235.99 386.87h0.5M1240.88 390.79l-3.95 -6.4h7.9zM1240.63 386.37h0.5M1245.51 390.3l-3.95 -6.4h7.9zM1245.26 385.88h0.5M1250.14 389.82l-3.95 -6.4h7.9zM1249.89 385.39h0.5M1254.78 389.34l-3.95 -6.4h7.9zM1254.53 384.92h0.5M1259.41 388.88l-3.95 -6.4h7.9zM1259.16 384.45h0.5M1264.04 388.41l-3.95 -6.4h7.9zM1263.79 383.99h0.5M1268.68 387.96l-3.95 -6.4h7.9zM1268.43 383.54h0.5M1273.31 387.51l-3.95 -6.4h7.9zM1273.06 383.09h0.5M1277.94 387.07l-3.95 -6.4h7.9zM1277.69 382.65h0.5M1282.58 386.64l-3.95 -6.4h7.9zM1282.33 382.21h0.5M1287.21 386.21l-3.95 -6.4h7.9zM1286.96 381.78h0.5M1291.85 385.78l-3.95 -6.4h7.9zM1291.6 381.36h0.5M1296.48 385.37l-3.95 -6.4h7.9zM1296.23 380.94h0.5M1301.11 384.96l-3.95 -6.4h7.9zM1300.86 380.53h0.5M1305.75 384.55l-3.95 -6.4h7.9zM1305.5 380.12h0.5M1310.38 384.15l-3.95 -6.4h7.9zM1310.13 379.72h0.5M1315.01 383.75l-3.95 -6.4h7.9zM1314.76 379.33h0.5M1319.65 383.36l-3.95 -6.4h7.9zM1319.4 378.94h0.5M1324.28 382.98l-3.95 -6.4h7.9zM1324.03 378.55h0.5M1328.91 382.6l-3.95 -6.4h7.9zM1328.66 378.17h0.5M1333.55 382.22l-3.95 -6.4h7.9zM1333.3 377.79h0.5M1338.18 381.85l-3.95 -6.4h7.9zM1337.93 377.42h0.5M1342.81 381.48l-3.95 -6.4h7.9zM1342.56 377.06h0.5M1347.45 381.12l-3.95 -6.4h7.9zM1347.2 376.69h0.5M1352.08 380.76l-3.95 -6.4h7.9zM1351.83 376.33h0.5M1356.71 380.4l-3.95 -6.4h7.9zM1356.46 375.98h0.5M1361.35 380.05l-3.95 -6.4h7.9zM1361.1 375.63h0.5M1365.98 379.71l-3.95 -6.4h7.9zM1365.73 375.28h0.5M1370.62 379.36l-3.95 -6.4h7.9zM1370.37 374.94h0.5M1375.25 379.03l-3.95 -6.4h7.9zM1375 374.6h0.5M1379.88 378.69l-3.95 -6.4h7.9zM1379.63 374.27h0.5M1384.52 378.36l-3.95 -6.4h7.9zM1384.27 373.93h0.5M1389.15 378.03l-3.95 -6.4h7.9zM1388.9 373.61h0.5M1393.78 377.71l-3.95 -6.4h7.9zM1393.53 373.28h0.5M1398.42 377.39l-3.95 -6.4h7.9zM1398.17 372.96h0.5M1403.05 377.07l-3.95 -6.4h7.9zM1402.8 372.64h0.5M1407.68 376.75l-3.95 -6.4h7.9zM1407.43 372.33h0.5M1412.32 376.44l-3.95 -6.4h7.9zM1412.07 372.02h0.5M1416.95 376.13l-3.95 -6.4h7.9zM1416.7 371.71h0.5M1421.58 375.83l-3.95 -6.4h7.9zM1421.33 371.4h0.5M1426.22 375.53l-3.95 -6.4h7.9zM1425.97 371.1h0.5M1430.85 375.23l-3.95 -6.4h7.9zM1430.6 370.8h0.5M1435.48 374.93l-3.95 -6.4h7.9zM1435.23 370.51h0.5M1440.12 374.64l-3.95 -6.4h7.9zM1439.87 370.21h0.5M1444.75 374.35l-3.95 -6.4h7.9zM1444.5 369.92h0.5M1449.38 374.06l-3.95 -6.4h7.9zM1449.13 369.63h0.5M1454.02 373.77l-3.95 -6.4h7.9zM1453.77 369.35h0.5M1458.65 373.49l-3.95 -6.4h7.9zM1458.4 369.07h0.5M1463.28 373.21l-3.95 -6.4h7.9zM1463.03 368.79h0.5M1467.92 372.93l-3.95 -6.4h7.9zM1467.67 368.51h0.5M1472.55 372.66l-3.95 -6.4h7.9zM1472.3 368.23h0.5M1477.19 372.39l-3.95 -6.4h7.9zM1476.94 367.96h0.5M1481.82 372.12l-3.95 -6.4h7.9zM1481.57 367.69h0.5M1486.45 371.85l-3.95 -6.4h7.9zM1486.2 367.42h0.5M1491.09 371.58l-3.95 -6.4h7.9zM1490.84 367.16h0.5M1495.72 371.32l-3.95 -6.4h7.9zM1495.47 366.9h0.5M1500.35 371.06l-3.95 -6.4h7.9zM1500.1 366.63h0.5M1504.99 370.8l-3.95 -6.4h7.9zM1504.74 366.38h0.5M1509.62 370.54l-3.95 -6.4h7.9zM1509.37 366.12h0.5M1514.25 370.29l-3.95 -6.4h7.9zM1514 365.86h0.5M1518.89 370.04l-3.95 -6.4h7.9zM1518.64 365.61h0.5M1523.52 369.79l-3.95 -6.4h7.9zM1523.27 365.36h0.5M1528.15 369.54l-3.95 -6.4h7.9zM1527.9 365.11h0.5M1532.79 369.29l-3.95 -6.4h7.9zM1532.54 364.87h0.5M1537.42 369.05l-3.95 -6.4h7.9zM1537.17 364.62h0.5M1542.05 368.8l-3.95 -6.4h7.9zM1541.8 364.38h0.5M1546.69 368.56l-3.95 -6.4h7.9zM1546.44 364.14h0.5M1551.32 368.33l-3.95 -6.4h7.9zM1551.07 363.9h0.5M1555.95 368.09l-3.95 -6.4h7.9zM1555.7 363.66h0.5M1560.59 367.85l-3.95 -6.4h7.9zM1560.34 363.43h0.5M1565.22 367.62l-3.95 -6.4h7.9zM1564.97 363.2h0.5M1569.86 367.39l-3.95 -6.4h7.9zM1569.61 362.96h0.5M1574.49 367.16l-3.95 -6.4h7.9zM1574.24 362.74h0.5M1579.12 366.93l-3.95 -6.4h7.9zM1578.87 362.51h0.5M1583.76 366.7l-3.95 -6.4h7.9zM1583.51 362.28h0.5M1588.39 366.48l-3.95 -6.4h7.9zM1588.14 362.06h0.5M1593.02 366.26l-3.95 -6.4h7.9zM1592.77 361.83h0.5M1597.66 366.04l-3.95 -6.4h7.9zM1597.41 361.61h0.5M1602.29 365.82l-3.95 -6.4h7.9zM1602.04 361.39h0.5M1606.92 365.6l-3.95 -6.4h7.9zM1606.67 361.17h0.5M1611.56 365.38l-3.95 -6.4h7.9zM1611.31 360.96h0.5M1616.19 365.17l-3.95 -6.4h7.9zM1615.94 360.74h0.5M1620.82 364.95l-3.95 -6.4h7.9zM1620.57 360.53h0.5M1625.46 364.74l-3.95 -6.4h7.9zM1625.21 360.32h0.5M1630.09 364.53l-3.95 -6.4h7.9zM1629.84 360.11h0.5M1634.72 364.32l-3.95 -6.4h7.9zM1634.47 359.9h0.5M1639.36 364.11l-3.95 -6.4h7.9zM1639.11 359.69h0.5M1643.99 363.91l-3.95 -6.4h7.9zM1643.74 359.48h0.5M1648.62 363.7l-3.95 -6.4h7.9zM1648.38 359.28h0.5M1653.26 363.5l-3.95 -6.4h7.9zM1653.01 359.07h0.5M1657.89 363.29l-3.95 -6.4h7.9zM1657.64 358.87h0.5M1662.53 363.09l-3.95 -6.4h7.9zM1662.28 358.67h0.5M1667.16 362.89l-3.95 -6.4h7.9zM1666.91 358.47h0.5M1671.79 362.69l-3.95 -6.4h7.9zM1671.54 358.27h0.5M1676.43 362.5l-3.95 -6.4h7.9zM1676.18 358.07h0.5M1681.06 362.3l-3.95 -6.4h7.9zM1680.81 357.88h0.5M1685.69 362.11l-3.95 -6.4h7.9zM1685.44 357.68h0.5M1690.33 361.91l-3.95 -6.4h7.9zM1690.08 357.49h0.5M1694.96 361.7l-3.95 -6.4h7.9zM1694.71 357.28h0.5" fill="none" stroke="#ff00ff" stroke-width="0.64"/>
<path d="M1046.27 502.3v-7.5M1046.27 10.2v7.5M1138.94 502.3v-7.5M1138.94 10.2v7.5M1231.61 502.3v-7.5M1231.61 10.2v7.5M1324.28 502.3v-7.5M1324.28 10.2v7.5M1416.95 502.3v-7.5M1416.95 10.2v7.5M1509.62 502.3v-7.5M1509.62 10.2v7.5M1602.29 502.3v-7.5M1602.29 10.2v7.5M953.3 403.9h7.5M1695.3 403.9h-7.5M953.3 305.5h7.5M1695.3 305.5h-7.5M953.3 207.1h7.5M1695.3 207.1h-7.5M953.3 108.7h7.5M1695.3 108.7h-7.5" stroke="#1e1e1e" stroke-width="1.4" fill="none"/>
<rect x="953.3" y="10.2" width="742" height="492.1" fill="none" stroke="#1e1e1e" stroke-width="1.4"/>
<g font-family="'Liberation Serif', 'DejaVu Serif', serif" font-size="30.7" fill="#000" stroke="#000" stroke-width="0.3">
<text transform="translate(940.5 512.4) scale(0.95 1)" text-anchor="end">1</text>
<text transform="translate(940.5 414) scale(0.95 1)" text-anchor="end">2</text>
<text transform="translate(940.5 315.6) scale(0.95 1)" text-anchor="end">3</text>
<text transform="translate(940.5 217.2) scale(0.95 1)" text-anchor="end">4</text>
<text transform="translate(940.5 118.8) scale(0.95 1)" text-anchor="end">5</text>
<text transform="translate(940.5 20.4) scale(0.95 1)" text-anchor="end">6</text>
<text transform="translate(957.8 536) scale(0.95 1)" text-anchor="middle">0</text>
<text transform="translate(1050.47 536) scale(0.95 1)" text-anchor="middle">20</text>
<text transform="translate(1143.14 536) scale(0.95 1)" text-anchor="middle">40</text>
<text transform="translate(1235.81 536) scale(0.95 1)" text-anchor="middle">60</text>
<text transform="translate(1328.48 536) scale(0.95 1)" text-anchor="middle">80</text>
<text transform="translate(1421.15 536) scale(0.95 1)" text-anchor="middle">100</text>
<text transform="translate(1513.82 536) scale(0.95 1)" text-anchor="middle">120</text>
<text transform="translate(1606.49 536) scale(0.95 1)" text-anchor="middle">140</text>
<text transform="translate(1699.16 536) scale(0.95 1)" text-anchor="middle">160</text>
<text transform="translate(1563 400.4) scale(0.95 1)" text-anchor="end">β=50</text>
<text transform="translate(1563 430.5) scale(0.95 1)" text-anchor="end">β=100</text>
<text transform="translate(1563 460.6) scale(0.95 1)" text-anchor="end">β=200</text>
<text transform="translate(1563 490.7) scale(0.95 1)" text-anchor="end">β=∞</text>
</g>
<path d="M1615.4 386h8.6v8.6h-8.6zM1619.45 390.3h0.5" fill="none" stroke="#ff0000" stroke-width="0.64"/>
<path d="M1615.4 420.4a4.3 4.3 0 1 0 8.6 0a4.3 4.3 0 1 0 -8.6 0zM1619.45 420.4h0.5" fill="none" stroke="#00ff00" stroke-width="0.64"/>
<path d="M1619.7 445.68l-4.3 6.97h8.6zM1619.45 450.5h0.5" fill="none" stroke="#0000ff" stroke-width="0.64"/>
<path d="M1619.7 485.42l-4.3 -6.97h8.6zM1619.45 480.6h0.5" fill="none" stroke="#ff00ff" stroke-width="0.64"/>
<text transform="translate(894.5 336) rotate(-90)" font-family="'Liberation Serif', 'DejaVu Serif', serif" font-size="42.3" stroke="#fff" stroke-width="0.6"><tspan x="-0.33" y="1" font-size="34" textLength="28.6" lengthAdjust="spacingAndGlyphs" stroke="none">−</tspan><tspan x="30.54" y="0" font-style="italic" textLength="26.89" lengthAdjust="spacingAndGlyphs">R</tspan><tspan x="57.31" y="6" font-size="27.7" textLength="14.52" lengthAdjust="spacingAndGlyphs" stroke="none">3</tspan><tspan x="75.76" y="0" font-size="43.7" textLength="11.67" lengthAdjust="spacingAndGlyphs">(</tspan><tspan x="88.32" y="0" font-style="italic" textLength="15.87" lengthAdjust="spacingAndGlyphs">ℓ</tspan><tspan x="105.92" y="0" font-size="44" textLength="8.39" lengthAdjust="spacingAndGlyphs" stroke="none">,</tspan><tspan x="123.37" y="-1" font-size="38.9" font-style="italic" textLength="20.79" lengthAdjust="spacingAndGlyphs">β</tspan><tspan x="146.21" y="0" font-size="43.7" textLength="12.32" lengthAdjust="spacingAndGlyphs">)</tspan></text>
<text transform="translate(1317 582.2)" font-family="'Liberation Serif', 'DejaVu Serif', serif" font-size="42.3" stroke="#fff" stroke-width="0.6"><tspan x="-0.79" y="0" font-style="italic" textLength="16.08" lengthAdjust="spacingAndGlyphs">ℓ</tspan></text>
<clipPath id="ci"><rect x="977" y="28.9" width="338.2" height="185"/></clipPath>
<path d="M978.02 207.26h4.2v4.2h-4.2zM987.43 202.59h4.2v4.2h-4.2zM994.21 199.22h4.2v4.2h-4.2zM999.58 196.43h4.2v4.2h-4.2zM1004.07 194.24h4.2v4.2h-4.2zM1007.97 192.33h4.2v4.2h-4.2zM1011.45 190.62h4.2v4.2h-4.2zM1014.62 189.06h4.2v4.2h-4.2zM1017.57 187.61h4.2v4.2h-4.2zM1020.33 186.25h4.2v4.2h-4.2zM1022.95 184.97h4.2v4.2h-4.2zM1025.45 183.74h4.2v4.2h-4.2zM1027.86 182.55h4.2v4.2h-4.2zM1030.2 181.41h4.2v4.2h-4.2zM1032.47 180.26h4.2v4.2h-4.2zM1034.69 179.14h4.2v4.2h-4.2zM1036.86 178.04h4.2v4.2h-4.2zM1039 176.96h4.2v4.2h-4.2zM1041.11 175.9h4.2v4.2h-4.2zM1043.2 174.85h4.2v4.2h-4.2zM1045.26 173.81h4.2v4.2h-4.2zM1047.3 172.78h4.2v4.2h-4.2zM1049.32 171.76h4.2v4.2h-4.2zM1051.33 170.74h4.2v4.2h-4.2zM1053.33 169.73h4.2v4.2h-4.2zM1055.32 168.73h4.2v4.2h-4.2zM1057.3 167.73h4.2v4.2h-4.2zM1059.27 166.74h4.2v4.2h-4.2zM1061.23 165.75h4.2v4.2h-4.2zM1063.19 164.76h4.2v4.2h-4.2zM1065.14 163.77h4.2v4.2h-4.2zM1067.09 162.79h4.2v4.2h-4.2zM1069.03 161.81h4.2v4.2h-4.2zM1070.97 160.83h4.2v4.2h-4.2zM1072.91 159.85h4.2v4.2h-4.2zM1074.84 158.88h4.2v4.2h-4.2zM1076.77 157.9h4.2v4.2h-4.2zM1078.7 156.89h4.2v4.2h-4.2zM1080.63 155.83h4.2v4.2h-4.2zM1082.56 154.77h4.2v4.2h-4.2zM1084.48 153.71h4.2v4.2h-4.2zM1086.4 152.65h4.2v4.2h-4.2zM1088.32 151.59h4.2v4.2h-4.2zM1090.25 150.53h4.2v4.2h-4.2zM1092.17 149.48h4.2v4.2h-4.2zM1094.09 148.42h4.2v4.2h-4.2zM1096 147.36h4.2v4.2h-4.2zM1097.92 146.31h4.2v4.2h-4.2zM1099.84 145.25h4.2v4.2h-4.2zM1101.76 144.2h4.2v4.2h-4.2zM1103.67 143.14h4.2v4.2h-4.2zM1105.59 142.08h4.2v4.2h-4.2zM1107.51 141.03h4.2v4.2h-4.2zM1109.42 139.97h4.2v4.2h-4.2zM1111.34 138.92h4.2v4.2h-4.2zM1113.25 137.88h4.2v4.2h-4.2zM1115.17 136.86h4.2v4.2h-4.2zM1117.09 135.85h4.2v4.2h-4.2zM1119 134.83h4.2v4.2h-4.2zM1120.92 133.81h4.2v4.2h-4.2zM1122.83 132.79h4.2v4.2h-4.2zM1124.74 131.77h4.2v4.2h-4.2zM1126.66 130.75h4.2v4.2h-4.2zM1128.57 129.73h4.2v4.2h-4.2zM1130.49 128.72h4.2v4.2h-4.2zM1132.4 127.7h4.2v4.2h-4.2zM1134.32 126.68h4.2v4.2h-4.2zM1136.23 125.66h4.2v4.2h-4.2zM1138.15 124.64h4.2v4.2h-4.2zM1140.06 123.62h4.2v4.2h-4.2zM1141.97 122.61h4.2v4.2h-4.2zM1143.89 121.59h4.2v4.2h-4.2zM1145.8 120.57h4.2v4.2h-4.2zM1147.72 119.55h4.2v4.2h-4.2zM1149.63 118.53h4.2v4.2h-4.2zM1151.54 117.52h4.2v4.2h-4.2zM1153.46 116.5h4.2v4.2h-4.2zM1155.37 115.48h4.2v4.2h-4.2zM1157.29 114.46h4.2v4.2h-4.2zM1159.2 113.44h4.2v4.2h-4.2zM1161.11 112.42h4.2v4.2h-4.2zM1163.03 111.41h4.2v4.2h-4.2zM1164.94 110.39h4.2v4.2h-4.2zM1166.86 109.37h4.2v4.2h-4.2zM1168.77 108.35h4.2v4.2h-4.2zM1170.68 107.33h4.2v4.2h-4.2zM1172.6 106.32h4.2v4.2h-4.2zM1174.51 105.28h4.2v4.2h-4.2zM1176.43 104.24h4.2v4.2h-4.2zM1178.34 103.21h4.2v4.2h-4.2zM1180.25 102.17h4.2v4.2h-4.2zM1182.17 101.13h4.2v4.2h-4.2zM1184.08 100.09h4.2v4.2h-4.2zM1186 99.05h4.2v4.2h-4.2zM1187.91 98.01h4.2v4.2h-4.2zM1189.82 96.97h4.2v4.2h-4.2zM1191.74 95.93h4.2v4.2h-4.2zM1193.65 94.89h4.2v4.2h-4.2zM1195.57 93.85h4.2v4.2h-4.2zM1197.48 92.82h4.2v4.2h-4.2zM1199.39 91.78h4.2v4.2h-4.2zM1201.31 90.74h4.2v4.2h-4.2zM1203.22 89.7h4.2v4.2h-4.2zM1205.14 88.66h4.2v4.2h-4.2zM1207.05 87.62h4.2v4.2h-4.2zM1208.96 86.58h4.2v4.2h-4.2zM1210.88 85.54h4.2v4.2h-4.2zM1212.79 84.5h4.2v4.2h-4.2zM1214.71 83.47h4.2v4.2h-4.2zM1216.62 82.43h4.2v4.2h-4.2zM1218.53 81.39h4.2v4.2h-4.2zM1220.45 80.35h4.2v4.2h-4.2zM1222.36 79.31h4.2v4.2h-4.2zM1224.28 78.27h4.2v4.2h-4.2zM1226.19 77.23h4.2v4.2h-4.2zM1228.1 76.19h4.2v4.2h-4.2zM1230.02 75.15h4.2v4.2h-4.2zM1231.93 74.12h4.2v4.2h-4.2zM1233.85 73.08h4.2v4.2h-4.2zM1235.76 72.04h4.2v4.2h-4.2zM1237.67 71h4.2v4.2h-4.2zM1239.59 69.96h4.2v4.2h-4.2zM1241.5 68.92h4.2v4.2h-4.2zM1243.42 67.88h4.2v4.2h-4.2zM1245.33 66.84h4.2v4.2h-4.2zM1247.24 65.8h4.2v4.2h-4.2zM1249.16 64.76h4.2v4.2h-4.2zM1251.07 63.73h4.2v4.2h-4.2zM1252.98 62.69h4.2v4.2h-4.2zM1254.9 61.65h4.2v4.2h-4.2zM1256.81 60.61h4.2v4.2h-4.2zM1258.73 59.57h4.2v4.2h-4.2zM1260.64 58.53h4.2v4.2h-4.2zM1262.55 57.49h4.2v4.2h-4.2zM1264.47 56.45h4.2v4.2h-4.2zM1266.38 55.41h4.2v4.2h-4.2zM1268.3 54.38h4.2v4.2h-4.2zM1270.21 53.34h4.2v4.2h-4.2zM1272.12 52.3h4.2v4.2h-4.2zM1274.04 51.26h4.2v4.2h-4.2zM1275.95 50.22h4.2v4.2h-4.2zM1277.87 49.18h4.2v4.2h-4.2zM1279.78 48.14h4.2v4.2h-4.2zM1281.69 47.1h4.2v4.2h-4.2zM1283.61 46.06h4.2v4.2h-4.2zM1285.52 45.03h4.2v4.2h-4.2zM1287.44 43.99h4.2v4.2h-4.2zM1289.35 42.95h4.2v4.2h-4.2zM1291.26 41.91h4.2v4.2h-4.2zM1293.18 40.87h4.2v4.2h-4.2zM1295.09 39.83h4.2v4.2h-4.2zM1297.01 38.79h4.2v4.2h-4.2zM1298.92 37.75h4.2v4.2h-4.2zM1300.83 36.71h4.2v4.2h-4.2zM1302.75 35.68h4.2v4.2h-4.2zM1304.66 34.64h4.2v4.2h-4.2zM1306.58 33.6h4.2v4.2h-4.2zM1308.49 32.56h4.2v4.2h-4.2zM1310.4 31.52h4.2v4.2h-4.2z" fill="none" stroke="#ff0000" stroke-width="0.7"/>
<path d="M987.23 204.79a2.1 2.1 0 1 0 4.2 0a2.1 2.1 0 1 0 -4.2 0zM993.86 201.51a2.1 2.1 0 1 0 4.2 0a2.1 2.1 0 1 0 -4.2 0zM999.02 198.81a2.1 2.1 0 1 0 4.2 0a2.1 2.1 0 1 0 -4.2 0zM1003.27 196.74a2.1 2.1 0 1 0 4.2 0a2.1 2.1 0 1 0 -4.2 0zM1006.89 194.96a2.1 2.1 0 1 0 4.2 0a2.1 2.1 0 1 0 -4.2 0zM1010.05 193.4a2.1 2.1 0 1 0 4.2 0a2.1 2.1 0 1 0 -4.2 0zM1012.87 192.02a2.1 2.1 0 1 0 4.2 0a2.1 2.1 0 1 0 -4.2 0zM1015.41 190.77a2.1 2.1 0 1 0 4.2 0a2.1 2.1 0 1 0 -4.2 0zM1017.75 189.62a2.1 2.1 0 1 0 4.2 0a2.1 2.1 0 1 0 -4.2 0zM1019.9 188.56a2.1 2.1 0 1 0 4.2 0a2.1 2.1 0 1 0 -4.2 0zM1021.91 187.58a2.1 2.1 0 1 0 4.2 0a2.1 2.1 0 1 0 -4.2 0zM1023.8 186.65a2.1 2.1 0 1 0 4.2 0a2.1 2.1 0 1 0 -4.2 0zM1025.59 185.77a2.1 2.1 0 1 0 4.2 0a2.1 2.1 0 1 0 -4.2 0zM1027.29 184.94a2.1 2.1 0 1 0 4.2 0a2.1 2.1 0 1 0 -4.2 0zM1028.91 184.14a2.1 2.1 0 1 0 4.2 0a2.1 2.1 0 1 0 -4.2 0zM1030.46 183.37a2.1 2.1 0 1 0 4.2 0a2.1 2.1 0 1 0 -4.2 0zM1031.96 182.62a2.1 2.1 0 1 0 4.2 0a2.1 2.1 0 1 0 -4.2 0zM1033.4 181.89a2.1 2.1 0 1 0 4.2 0a2.1 2.1 0 1 0 -4.2 0zM1034.8 181.18a2.1 2.1 0 1 0 4.2 0a2.1 2.1 0 1 0 -4.2 0zM1036.16 180.5a2.1 2.1 0 1 0 4.2 0a2.1 2.1 0 1 0 -4.2 0zM1037.49 179.83a2.1 2.1 0 1 0 4.2 0a2.1 2.1 0 1 0 -4.2 0zM1038.78 179.18a2.1 2.1 0 1 0 4.2 0a2.1 2.1 0 1 0 -4.2 0zM1040.05 178.54a2.1 2.1 0 1 0 4.2 0a2.1 2.1 0 1 0 -4.2 0zM1041.29 177.91a2.1 2.1 0 1 0 4.2 0a2.1 2.1 0 1 0 -4.2 0zM1042.5 177.3a2.1 2.1 0 1 0 4.2 0a2.1 2.1 0 1 0 -4.2 0zM1043.7 176.7a2.1 2.1 0 1 0 4.2 0a2.1 2.1 0 1 0 -4.2 0zM1044.87 176.1a2.1 2.1 0 1 0 4.2 0a2.1 2.1 0 1 0 -4.2 0zM1046.03 175.52a2.1 2.1 0 1 0 4.2 0a2.1 2.1 0 1 0 -4.2 0zM1047.17 174.94a2.1 2.1 0 1 0 4.2 0a2.1 2.1 0 1 0 -4.2 0zM1048.3 174.37a2.1 2.1 0 1 0 4.2 0a2.1 2.1 0 1 0 -4.2 0zM1049.42 173.81a2.1 2.1 0 1 0 4.2 0a2.1 2.1 0 1 0 -4.2 0zM1050.52 173.25a2.1 2.1 0 1 0 4.2 0a2.1 2.1 0 1 0 -4.2 0zM1051.62 172.7a2.1 2.1 0 1 0 4.2 0a2.1 2.1 0 1 0 -4.2 0zM1052.7 172.15a2.1 2.1 0 1 0 4.2 0a2.1 2.1 0 1 0 -4.2 0zM1053.77 171.61a2.1 2.1 0 1 0 4.2 0a2.1 2.1 0 1 0 -4.2 0zM1054.84 171.07a2.1 2.1 0 1 0 4.2 0a2.1 2.1 0 1 0 -4.2 0zM1055.9 170.54a2.1 2.1 0 1 0 4.2 0a2.1 2.1 0 1 0 -4.2 0zM1056.95 170.01a2.1 2.1 0 1 0 4.2 0a2.1 2.1 0 1 0 -4.2 0zM1057.99 169.48a2.1 2.1 0 1 0 4.2 0a2.1 2.1 0 1 0 -4.2 0zM1059.03 168.96a2.1 2.1 0 1 0 4.2 0a2.1 2.1 0 1 0 -4.2 0zM1060.07 168.43a2.1 2.1 0 1 0 4.2 0a2.1 2.1 0 1 0 -4.2 0zM1061.09 167.92a2.1 2.1 0 1 0 4.2 0a2.1 2.1 0 1 0 -4.2 0zM1062.12 167.4a2.1 2.1 0 1 0 4.2 0a2.1 2.1 0 1 0 -4.2 0zM1063.13 166.89a2.1 2.1 0 1 0 4.2 0a2.1 2.1 0 1 0 -4.2 0zM1064.15 166.37a2.1 2.1 0 1 0 4.2 0a2.1 2.1 0 1 0 -4.2 0zM1065.16 165.86a2.1 2.1 0 1 0 4.2 0a2.1 2.1 0 1 0 -4.2 0zM1066.17 165.36a2.1 2.1 0 1 0 4.2 0a2.1 2.1 0 1 0 -4.2 0zM1067.17 164.85a2.1 2.1 0 1 0 4.2 0a2.1 2.1 0 1 0 -4.2 0zM1068.17 164.34a2.1 2.1 0 1 0 4.2 0a2.1 2.1 0 1 0 -4.2 0zM1069.17 163.84a2.1 2.1 0 1 0 4.2 0a2.1 2.1 0 1 0 -4.2 0zM1070.16 163.34a2.1 2.1 0 1 0 4.2 0a2.1 2.1 0 1 0 -4.2 0zM1071.15 162.84a2.1 2.1 0 1 0 4.2 0a2.1 2.1 0 1 0 -4.2 0zM1072.14 162.34a2.1 2.1 0 1 0 4.2 0a2.1 2.1 0 1 0 -4.2 0zM1073.13 161.84a2.1 2.1 0 1 0 4.2 0a2.1 2.1 0 1 0 -4.2 0zM1074.12 161.34a2.1 2.1 0 1 0 4.2 0a2.1 2.1 0 1 0 -4.2 0zM1075.1 160.84a2.1 2.1 0 1 0 4.2 0a2.1 2.1 0 1 0 -4.2 0zM1076.09 160.35a2.1 2.1 0 1 0 4.2 0a2.1 2.1 0 1 0 -4.2 0zM1077.07 159.85a2.1 2.1 0 1 0 4.2 0a2.1 2.1 0 1 0 -4.2 0zM1078.05 159.35a2.1 2.1 0 1 0 4.2 0a2.1 2.1 0 1 0 -4.2 0zM1079.02 158.81a2.1 2.1 0 1 0 4.2 0a2.1 2.1 0 1 0 -4.2 0zM1080 158.28a2.1 2.1 0 1 0 4.2 0a2.1 2.1 0 1 0 -4.2 0zM1080.98 157.74a2.1 2.1 0 1 0 4.2 0a2.1 2.1 0 1 0 -4.2 0zM1081.95 157.2a2.1 2.1 0 1 0 4.2 0a2.1 2.1 0 1 0 -4.2 0zM1082.92 156.67a2.1 2.1 0 1 0 4.2 0a2.1 2.1 0 1 0 -4.2 0zM1083.9 156.13a2.1 2.1 0 1 0 4.2 0a2.1 2.1 0 1 0 -4.2 0zM1084.87 155.6a2.1 2.1 0 1 0 4.2 0a2.1 2.1 0 1 0 -4.2 0zM1085.84 155.06a2.1 2.1 0 1 0 4.2 0a2.1 2.1 0 1 0 -4.2 0zM1086.81 154.53a2.1 2.1 0 1 0 4.2 0a2.1 2.1 0 1 0 -4.2 0zM1087.77 153.99a2.1 2.1 0 1 0 4.2 0a2.1 2.1 0 1 0 -4.2 0zM1088.74 153.46a2.1 2.1 0 1 0 4.2 0a2.1 2.1 0 1 0 -4.2 0zM1089.71 152.93a2.1 2.1 0 1 0 4.2 0a2.1 2.1 0 1 0 -4.2 0zM1090.68 152.4a2.1 2.1 0 1 0 4.2 0a2.1 2.1 0 1 0 -4.2 0zM1091.64 151.87a2.1 2.1 0 1 0 4.2 0a2.1 2.1 0 1 0 -4.2 0zM1092.61 151.33a2.1 2.1 0 1 0 4.2 0a2.1 2.1 0 1 0 -4.2 0zM1093.57 150.8a2.1 2.1 0 1 0 4.2 0a2.1 2.1 0 1 0 -4.2 0zM1094.54 150.27a2.1 2.1 0 1 0 4.2 0a2.1 2.1 0 1 0 -4.2 0zM1095.5 149.74a2.1 2.1 0 1 0 4.2 0a2.1 2.1 0 1 0 -4.2 0zM1096.46 149.21a2.1 2.1 0 1 0 4.2 0a2.1 2.1 0 1 0 -4.2 0zM1097.43 148.68a2.1 2.1 0 1 0 4.2 0a2.1 2.1 0 1 0 -4.2 0zM1098.39 148.15a2.1 2.1 0 1 0 4.2 0a2.1 2.1 0 1 0 -4.2 0zM1099.35 147.62a2.1 2.1 0 1 0 4.2 0a2.1 2.1 0 1 0 -4.2 0zM1100.32 147.09a2.1 2.1 0 1 0 4.2 0a2.1 2.1 0 1 0 -4.2 0zM1101.28 146.56a2.1 2.1 0 1 0 4.2 0a2.1 2.1 0 1 0 -4.2 0zM1102.24 146.03a2.1 2.1 0 1 0 4.2 0a2.1 2.1 0 1 0 -4.2 0zM1103.2 145.5a2.1 2.1 0 1 0 4.2 0a2.1 2.1 0 1 0 -4.2 0zM1104.16 144.97a2.1 2.1 0 1 0 4.2 0a2.1 2.1 0 1 0 -4.2 0zM1105.12 144.44a2.1 2.1 0 1 0 4.2 0a2.1 2.1 0 1 0 -4.2 0zM1106.08 143.92a2.1 2.1 0 1 0 4.2 0a2.1 2.1 0 1 0 -4.2 0zM1107.04 143.39a2.1 2.1 0 1 0 4.2 0a2.1 2.1 0 1 0 -4.2 0zM1108 142.86a2.1 2.1 0 1 0 4.2 0a2.1 2.1 0 1 0 -4.2 0zM1108.96 142.33a2.1 2.1 0 1 0 4.2 0a2.1 2.1 0 1 0 -4.2 0zM1109.92 141.8a2.1 2.1 0 1 0 4.2 0a2.1 2.1 0 1 0 -4.2 0zM1110.88 141.27a2.1 2.1 0 1 0 4.2 0a2.1 2.1 0 1 0 -4.2 0zM1111.84 140.74a2.1 2.1 0 1 0 4.2 0a2.1 2.1 0 1 0 -4.2 0zM1112.8 140.23a2.1 2.1 0 1 0 4.2 0a2.1 2.1 0 1 0 -4.2 0zM1113.76 139.72a2.1 2.1 0 1 0 4.2 0a2.1 2.1 0 1 0 -4.2 0zM1114.72 139.21a2.1 2.1 0 1 0 4.2 0a2.1 2.1 0 1 0 -4.2 0zM1115.68 138.7a2.1 2.1 0 1 0 4.2 0a2.1 2.1 0 1 0 -4.2 0zM1116.64 138.19a2.1 2.1 0 1 0 4.2 0a2.1 2.1 0 1 0 -4.2 0zM1117.59 137.68a2.1 2.1 0 1 0 4.2 0a2.1 2.1 0 1 0 -4.2 0zM1118.55 137.17a2.1 2.1 0 1 0 4.2 0a2.1 2.1 0 1 0 -4.2 0zM1119.51 136.66a2.1 2.1 0 1 0 4.2 0a2.1 2.1 0 1 0 -4.2 0zM1120.47 136.15a2.1 2.1 0 1 0 4.2 0a2.1 2.1 0 1 0 -4.2 0zM1121.43 135.64a2.1 2.1 0 1 0 4.2 0a2.1 2.1 0 1 0 -4.2 0zM1122.39 135.13a2.1 2.1 0 1 0 4.2 0a2.1 2.1 0 1 0 -4.2 0zM1123.34 134.62a2.1 2.1 0 1 0 4.2 0a2.1 2.1 0 1 0 -4.2 0zM1124.3 134.11a2.1 2.1 0 1 0 4.2 0a2.1 2.1 0 1 0 -4.2 0zM1125.26 133.6a2.1 2.1 0 1 0 4.2 0a2.1 2.1 0 1 0 -4.2 0zM1126.22 133.09a2.1 2.1 0 1 0 4.2 0a2.1 2.1 0 1 0 -4.2 0zM1127.18 132.58a2.1 2.1 0 1 0 4.2 0a2.1 2.1 0 1 0 -4.2 0zM1128.13 132.07a2.1 2.1 0 1 0 4.2 0a2.1 2.1 0 1 0 -4.2 0zM1129.09 131.56a2.1 2.1 0 1 0 4.2 0a2.1 2.1 0 1 0 -4.2 0zM1130.05 131.05a2.1 2.1 0 1 0 4.2 0a2.1 2.1 0 1 0 -4.2 0zM1131.01 130.54a2.1 2.1 0 1 0 4.2 0a2.1 2.1 0 1 0 -4.2 0zM1131.96 130.03a2.1 2.1 0 1 0 4.2 0a2.1 2.1 0 1 0 -4.2 0zM1132.92 129.52a2.1 2.1 0 1 0 4.2 0a2.1 2.1 0 1 0 -4.2 0zM1133.88 129.01a2.1 2.1 0 1 0 4.2 0a2.1 2.1 0 1 0 -4.2 0zM1134.84 128.5a2.1 2.1 0 1 0 4.2 0a2.1 2.1 0 1 0 -4.2 0zM1135.79 127.99a2.1 2.1 0 1 0 4.2 0a2.1 2.1 0 1 0 -4.2 0zM1136.75 127.48a2.1 2.1 0 1 0 4.2 0a2.1 2.1 0 1 0 -4.2 0zM1137.71 126.98a2.1 2.1 0 1 0 4.2 0a2.1 2.1 0 1 0 -4.2 0zM1138.67 126.47a2.1 2.1 0 1 0 4.2 0a2.1 2.1 0 1 0 -4.2 0zM1139.62 125.96a2.1 2.1 0 1 0 4.2 0a2.1 2.1 0 1 0 -4.2 0zM1140.58 125.45a2.1 2.1 0 1 0 4.2 0a2.1 2.1 0 1 0 -4.2 0zM1141.54 124.94a2.1 2.1 0 1 0 4.2 0a2.1 2.1 0 1 0 -4.2 0zM1142.5 124.43a2.1 2.1 0 1 0 4.2 0a2.1 2.1 0 1 0 -4.2 0zM1143.45 123.92a2.1 2.1 0 1 0 4.2 0a2.1 2.1 0 1 0 -4.2 0zM1144.41 123.41a2.1 2.1 0 1 0 4.2 0a2.1 2.1 0 1 0 -4.2 0zM1145.37 122.9a2.1 2.1 0 1 0 4.2 0a2.1 2.1 0 1 0 -4.2 0zM1146.32 122.39a2.1 2.1 0 1 0 4.2 0a2.1 2.1 0 1 0 -4.2 0zM1147.28 121.88a2.1 2.1 0 1 0 4.2 0a2.1 2.1 0 1 0 -4.2 0zM1148.24 121.37a2.1 2.1 0 1 0 4.2 0a2.1 2.1 0 1 0 -4.2 0zM1149.2 120.87a2.1 2.1 0 1 0 4.2 0a2.1 2.1 0 1 0 -4.2 0zM1150.15 120.36a2.1 2.1 0 1 0 4.2 0a2.1 2.1 0 1 0 -4.2 0zM1151.11 119.85a2.1 2.1 0 1 0 4.2 0a2.1 2.1 0 1 0 -4.2 0zM1152.07 119.34a2.1 2.1 0 1 0 4.2 0a2.1 2.1 0 1 0 -4.2 0zM1153.02 118.83a2.1 2.1 0 1 0 4.2 0a2.1 2.1 0 1 0 -4.2 0zM1153.98 118.32a2.1 2.1 0 1 0 4.2 0a2.1 2.1 0 1 0 -4.2 0zM1154.94 117.81a2.1 2.1 0 1 0 4.2 0a2.1 2.1 0 1 0 -4.2 0zM1155.9 117.3a2.1 2.1 0 1 0 4.2 0a2.1 2.1 0 1 0 -4.2 0zM1156.85 116.79a2.1 2.1 0 1 0 4.2 0a2.1 2.1 0 1 0 -4.2 0zM1157.81 116.28a2.1 2.1 0 1 0 4.2 0a2.1 2.1 0 1 0 -4.2 0zM1158.77 115.77a2.1 2.1 0 1 0 4.2 0a2.1 2.1 0 1 0 -4.2 0zM1159.72 115.26a2.1 2.1 0 1 0 4.2 0a2.1 2.1 0 1 0 -4.2 0zM1160.68 114.76a2.1 2.1 0 1 0 4.2 0a2.1 2.1 0 1 0 -4.2 0zM1161.64 114.25a2.1 2.1 0 1 0 4.2 0a2.1 2.1 0 1 0 -4.2 0zM1162.6 113.74a2.1 2.1 0 1 0 4.2 0a2.1 2.1 0 1 0 -4.2 0zM1163.55 113.23a2.1 2.1 0 1 0 4.2 0a2.1 2.1 0 1 0 -4.2 0zM1164.51 112.72a2.1 2.1 0 1 0 4.2 0a2.1 2.1 0 1 0 -4.2 0zM1165.47 112.21a2.1 2.1 0 1 0 4.2 0a2.1 2.1 0 1 0 -4.2 0zM1166.42 111.7a2.1 2.1 0 1 0 4.2 0a2.1 2.1 0 1 0 -4.2 0zM1167.38 111.19a2.1 2.1 0 1 0 4.2 0a2.1 2.1 0 1 0 -4.2 0zM1168.34 110.68a2.1 2.1 0 1 0 4.2 0a2.1 2.1 0 1 0 -4.2 0zM1169.29 110.17a2.1 2.1 0 1 0 4.2 0a2.1 2.1 0 1 0 -4.2 0zM1170.25 109.66a2.1 2.1 0 1 0 4.2 0a2.1 2.1 0 1 0 -4.2 0zM1171.21 109.16a2.1 2.1 0 1 0 4.2 0a2.1 2.1 0 1 0 -4.2 0zM1172.17 108.65a2.1 2.1 0 1 0 4.2 0a2.1 2.1 0 1 0 -4.2 0zM1173.12 108.14a2.1 2.1 0 1 0 4.2 0a2.1 2.1 0 1 0 -4.2 0z" fill="none" stroke="#00ff00" stroke-width="0.7"/>
<path d="M989.28 202.47l-2.1 3.4h4.2zM995.87 199.21l-2.1 3.4h4.2zM1000.98 196.52l-2.1 3.4h4.2zM1005.17 194.48l-2.1 3.4h4.2zM1008.71 192.74l-2.1 3.4h4.2zM1011.79 191.23l-2.1 3.4h4.2zM1014.51 189.89l-2.1 3.4h4.2zM1016.96 188.69l-2.1 3.4h4.2zM1019.17 187.6l-2.1 3.4h4.2zM1021.2 186.6l-2.1 3.4h4.2zM1023.08 185.68l-2.1 3.4h4.2zM1024.82 184.83l-2.1 3.4h4.2zM1026.45 184.02l-2.1 3.4h4.2zM1027.99 183.27l-2.1 3.4h4.2zM1029.43 182.56l-2.1 3.4h4.2zM1030.8 181.89l-2.1 3.4h4.2zM1032.11 181.25l-2.1 3.4h4.2zM1033.35 180.63l-2.1 3.4h4.2zM1034.54 180.02l-2.1 3.4h4.2zM1035.68 179.45l-2.1 3.4h4.2zM1036.78 178.89l-2.1 3.4h4.2zM1037.84 178.36l-2.1 3.4h4.2zM1038.86 177.84l-2.1 3.4h4.2zM1039.85 177.35l-2.1 3.4h4.2zM1040.81 176.86l-2.1 3.4h4.2zM1041.74 176.39l-2.1 3.4h4.2zM1042.64 175.94l-2.1 3.4h4.2zM1043.52 175.49l-2.1 3.4h4.2zM1044.38 175.06l-2.1 3.4h4.2zM1045.22 174.63l-2.1 3.4h4.2zM1046.04 174.22l-2.1 3.4h4.2zM1046.84 173.82l-2.1 3.4h4.2zM1047.63 173.42l-2.1 3.4h4.2zM1048.4 173.03l-2.1 3.4h4.2zM1049.15 172.65l-2.1 3.4h4.2zM1049.89 172.28l-2.1 3.4h4.2zM1050.62 171.91l-2.1 3.4h4.2zM1051.34 171.55l-2.1 3.4h4.2zM1052.04 171.19l-2.1 3.4h4.2zM1052.74 170.84l-2.1 3.4h4.2zM1053.42 170.49l-2.1 3.4h4.2zM1054.1 170.15l-2.1 3.4h4.2zM1054.77 169.82l-2.1 3.4h4.2zM1055.42 169.48l-2.1 3.4h4.2zM1056.07 169.16l-2.1 3.4h4.2zM1056.72 168.83l-2.1 3.4h4.2zM1057.35 168.51l-2.1 3.4h4.2zM1057.98 168.19l-2.1 3.4h4.2zM1058.6 167.88l-2.1 3.4h4.2zM1059.22 167.57l-2.1 3.4h4.2zM1059.83 167.26l-2.1 3.4h4.2zM1060.44 166.95l-2.1 3.4h4.2zM1061.04 166.65l-2.1 3.4h4.2zM1061.63 166.35l-2.1 3.4h4.2zM1062.22 166.05l-2.1 3.4h4.2zM1062.81 165.76l-2.1 3.4h4.2zM1063.39 165.46l-2.1 3.4h4.2zM1063.97 165.17l-2.1 3.4h4.2zM1064.54 164.88l-2.1 3.4h4.2zM1065.11 164.6l-2.1 3.4h4.2zM1065.68 164.31l-2.1 3.4h4.2zM1066.24 164.03l-2.1 3.4h4.2zM1066.8 163.74l-2.1 3.4h4.2zM1067.36 163.46l-2.1 3.4h4.2zM1067.91 163.18l-2.1 3.4h4.2zM1068.46 162.91l-2.1 3.4h4.2zM1069.01 162.63l-2.1 3.4h4.2zM1069.55 162.35l-2.1 3.4h4.2zM1070.1 162.08l-2.1 3.4h4.2zM1070.64 161.81l-2.1 3.4h4.2zM1071.17 161.54l-2.1 3.4h4.2zM1071.71 161.26l-2.1 3.4h4.2zM1072.24 161l-2.1 3.4h4.2zM1072.78 160.73l-2.1 3.4h4.2zM1073.31 160.46l-2.1 3.4h4.2zM1073.83 160.19l-2.1 3.4h4.2zM1074.36 159.93l-2.1 3.4h4.2zM1074.89 159.66l-2.1 3.4h4.2zM1075.41 159.4l-2.1 3.4h4.2zM1075.93 159.14l-2.1 3.4h4.2zM1076.45 158.87l-2.1 3.4h4.2zM1076.97 158.61l-2.1 3.4h4.2zM1077.49 158.35l-2.1 3.4h4.2zM1078 158.09l-2.1 3.4h4.2zM1078.52 157.83l-2.1 3.4h4.2zM1079.03 157.57l-2.1 3.4h4.2zM1079.54 157.31l-2.1 3.4h4.2zM1080.05 157.05l-2.1 3.4h4.2zM1080.56 156.77l-2.1 3.4h4.2zM1081.07 156.49l-2.1 3.4h4.2zM1081.58 156.21l-2.1 3.4h4.2zM1082.08 155.93l-2.1 3.4h4.2zM1082.59 155.65l-2.1 3.4h4.2zM1083.09 155.38l-2.1 3.4h4.2zM1083.6 155.1l-2.1 3.4h4.2zM1084.1 154.82l-2.1 3.4h4.2zM1084.6 154.55l-2.1 3.4h4.2zM1085.1 154.27l-2.1 3.4h4.2zM1085.61 153.99l-2.1 3.4h4.2zM1086.11 153.72l-2.1 3.4h4.2zM1086.6 153.44l-2.1 3.4h4.2zM1087.1 153.17l-2.1 3.4h4.2zM1087.6 152.89l-2.1 3.4h4.2zM1088.1 152.62l-2.1 3.4h4.2zM1088.59 152.35l-2.1 3.4h4.2zM1089.09 152.07l-2.1 3.4h4.2zM1089.59 151.8l-2.1 3.4h4.2zM1090.08 151.53l-2.1 3.4h4.2zM1090.57 151.26l-2.1 3.4h4.2zM1091.07 150.99l-2.1 3.4h4.2zM1091.56 150.71l-2.1 3.4h4.2zM1092.05 150.44l-2.1 3.4h4.2zM1092.55 150.17l-2.1 3.4h4.2zM1093.04 149.9l-2.1 3.4h4.2zM1093.53 149.63l-2.1 3.4h4.2zM1094.02 149.36l-2.1 3.4h4.2zM1094.51 149.09l-2.1 3.4h4.2zM1095 148.82l-2.1 3.4h4.2zM1095.49 148.55l-2.1 3.4h4.2zM1095.98 148.28l-2.1 3.4h4.2zM1096.47 148.01l-2.1 3.4h4.2zM1096.96 147.74l-2.1 3.4h4.2zM1097.45 147.47l-2.1 3.4h4.2zM1097.94 147.2l-2.1 3.4h4.2zM1098.42 146.94l-2.1 3.4h4.2zM1098.91 146.67l-2.1 3.4h4.2zM1099.4 146.4l-2.1 3.4h4.2zM1099.89 146.13l-2.1 3.4h4.2zM1100.37 145.86l-2.1 3.4h4.2zM1100.86 145.6l-2.1 3.4h4.2zM1101.34 145.33l-2.1 3.4h4.2zM1101.83 145.06l-2.1 3.4h4.2zM1102.32 144.79l-2.1 3.4h4.2zM1102.8 144.53l-2.1 3.4h4.2zM1103.29 144.26l-2.1 3.4h4.2zM1103.77 143.99l-2.1 3.4h4.2zM1104.26 143.72l-2.1 3.4h4.2zM1104.74 143.46l-2.1 3.4h4.2zM1105.23 143.19l-2.1 3.4h4.2zM1105.71 142.92l-2.1 3.4h4.2zM1106.19 142.66l-2.1 3.4h4.2zM1106.68 142.39l-2.1 3.4h4.2zM1107.16 142.12l-2.1 3.4h4.2zM1107.65 141.86l-2.1 3.4h4.2zM1108.13 141.59l-2.1 3.4h4.2zM1108.61 141.33l-2.1 3.4h4.2zM1109.1 141.06l-2.1 3.4h4.2zM1109.58 140.79l-2.1 3.4h4.2zM1110.06 140.53l-2.1 3.4h4.2zM1110.54 140.26l-2.1 3.4h4.2zM1111.03 140l-2.1 3.4h4.2zM1111.51 139.73l-2.1 3.4h4.2zM1111.99 139.47l-2.1 3.4h4.2zM1112.47 139.2l-2.1 3.4h4.2zM1112.96 138.93l-2.1 3.4h4.2zM1113.44 138.67l-2.1 3.4h4.2zM1113.92 138.4l-2.1 3.4h4.2zM1114.4 138.14l-2.1 3.4h4.2z" fill="none" stroke="#0000ff" stroke-width="0.7"/>
<path d="M989.26 207.18l-2.1 -3.4h4.2zM995.84 203.93l-2.1 -3.4h4.2zM1000.93 201.25l-2.1 -3.4h4.2zM1005.1 199.22l-2.1 -3.4h4.2zM1008.62 197.49l-2.1 -3.4h4.2zM1011.67 195.99l-2.1 -3.4h4.2zM1014.36 194.67l-2.1 -3.4h4.2zM1016.77 193.49l-2.1 -3.4h4.2zM1018.95 192.42l-2.1 -3.4h4.2zM1020.93 191.44l-2.1 -3.4h4.2zM1022.76 190.54l-2.1 -3.4h4.2zM1024.46 189.71l-2.1 -3.4h4.2zM1026.03 188.93l-2.1 -3.4h4.2zM1027.51 188.21l-2.1 -3.4h4.2zM1028.89 187.53l-2.1 -3.4h4.2zM1030.2 186.89l-2.1 -3.4h4.2zM1031.43 186.28l-2.1 -3.4h4.2zM1032.61 185.71l-2.1 -3.4h4.2zM1033.72 185.14l-2.1 -3.4h4.2zM1034.78 184.61l-2.1 -3.4h4.2zM1035.8 184.09l-2.1 -3.4h4.2zM1036.77 183.6l-2.1 -3.4h4.2zM1037.7 183.13l-2.1 -3.4h4.2zM1038.6 182.68l-2.1 -3.4h4.2zM1039.46 182.24l-2.1 -3.4h4.2zM1040.29 181.83l-2.1 -3.4h4.2zM1041.09 181.42l-2.1 -3.4h4.2zM1041.87 181.03l-2.1 -3.4h4.2zM1042.62 180.65l-2.1 -3.4h4.2zM1043.34 180.29l-2.1 -3.4h4.2zM1044.05 179.93l-2.1 -3.4h4.2zM1044.73 179.59l-2.1 -3.4h4.2zM1045.39 179.25l-2.1 -3.4h4.2zM1046.03 178.93l-2.1 -3.4h4.2zM1046.66 178.61l-2.1 -3.4h4.2zM1047.27 178.3l-2.1 -3.4h4.2zM1047.86 178l-2.1 -3.4h4.2zM1048.44 177.71l-2.1 -3.4h4.2zM1049 177.43l-2.1 -3.4h4.2zM1049.56 177.15l-2.1 -3.4h4.2zM1050.09 176.88l-2.1 -3.4h4.2zM1050.62 176.61l-2.1 -3.4h4.2zM1051.13 176.35l-2.1 -3.4h4.2zM1051.63 176.1l-2.1 -3.4h4.2zM1052.13 175.85l-2.1 -3.4h4.2zM1052.61 175.61l-2.1 -3.4h4.2zM1053.08 175.37l-2.1 -3.4h4.2zM1053.54 175.14l-2.1 -3.4h4.2zM1053.99 174.91l-2.1 -3.4h4.2zM1054.43 174.69l-2.1 -3.4h4.2zM1054.87 174.47l-2.1 -3.4h4.2zM1055.3 174.25l-2.1 -3.4h4.2zM1055.72 174.04l-2.1 -3.4h4.2zM1056.13 173.83l-2.1 -3.4h4.2zM1056.53 173.63l-2.1 -3.4h4.2zM1056.93 173.43l-2.1 -3.4h4.2zM1057.32 173.23l-2.1 -3.4h4.2zM1057.7 173.04l-2.1 -3.4h4.2zM1058.08 172.85l-2.1 -3.4h4.2zM1058.45 172.66l-2.1 -3.4h4.2zM1058.82 172.48l-2.1 -3.4h4.2zM1059.18 172.29l-2.1 -3.4h4.2zM1059.53 172.11l-2.1 -3.4h4.2zM1059.88 171.94l-2.1 -3.4h4.2zM1060.22 171.77l-2.1 -3.4h4.2zM1060.56 171.59l-2.1 -3.4h4.2zM1060.9 171.43l-2.1 -3.4h4.2zM1061.23 171.26l-2.1 -3.4h4.2zM1061.55 171.1l-2.1 -3.4h4.2zM1061.87 170.94l-2.1 -3.4h4.2zM1062.18 170.78l-2.1 -3.4h4.2zM1062.5 170.62l-2.1 -3.4h4.2zM1062.8 170.46l-2.1 -3.4h4.2zM1063.1 170.31l-2.1 -3.4h4.2zM1063.4 170.16l-2.1 -3.4h4.2zM1063.7 170.01l-2.1 -3.4h4.2zM1063.99 169.87l-2.1 -3.4h4.2zM1064.28 169.72l-2.1 -3.4h4.2zM1064.56 169.58l-2.1 -3.4h4.2zM1064.84 169.44l-2.1 -3.4h4.2zM1065.12 169.3l-2.1 -3.4h4.2zM1065.39 169.16l-2.1 -3.4h4.2zM1065.66 169.02l-2.1 -3.4h4.2zM1065.93 168.89l-2.1 -3.4h4.2zM1066.19 168.75l-2.1 -3.4h4.2zM1066.45 168.62l-2.1 -3.4h4.2zM1066.71 168.49l-2.1 -3.4h4.2zM1066.97 168.36l-2.1 -3.4h4.2zM1067.22 168.24l-2.1 -3.4h4.2zM1067.47 168.11l-2.1 -3.4h4.2zM1067.72 167.98l-2.1 -3.4h4.2zM1067.96 167.86l-2.1 -3.4h4.2zM1068.2 167.74l-2.1 -3.4h4.2zM1068.44 167.62l-2.1 -3.4h4.2zM1068.68 167.5l-2.1 -3.4h4.2zM1068.91 167.38l-2.1 -3.4h4.2zM1069.14 167.26l-2.1 -3.4h4.2zM1069.37 167.15l-2.1 -3.4h4.2zM1069.6 167.03l-2.1 -3.4h4.2zM1069.83 166.92l-2.1 -3.4h4.2zM1070.05 166.81l-2.1 -3.4h4.2zM1070.27 166.7l-2.1 -3.4h4.2zM1070.49 166.59l-2.1 -3.4h4.2zM1070.71 166.48l-2.1 -3.4h4.2zM1070.92 166.37l-2.1 -3.4h4.2zM1071.13 166.26l-2.1 -3.4h4.2zM1071.34 166.15l-2.1 -3.4h4.2zM1071.55 166.05l-2.1 -3.4h4.2zM1071.76 165.94l-2.1 -3.4h4.2zM1071.96 165.84l-2.1 -3.4h4.2zM1072.17 165.74l-2.1 -3.4h4.2zM1072.37 165.64l-2.1 -3.4h4.2zM1072.57 165.54l-2.1 -3.4h4.2zM1072.77 165.44l-2.1 -3.4h4.2zM1072.96 165.34l-2.1 -3.4h4.2zM1073.16 165.24l-2.1 -3.4h4.2zM1073.35 165.14l-2.1 -3.4h4.2zM1073.54 165.05l-2.1 -3.4h4.2zM1073.73 164.95l-2.1 -3.4h4.2zM1073.92 164.86l-2.1 -3.4h4.2zM1074.1 164.76l-2.1 -3.4h4.2zM1074.29 164.67l-2.1 -3.4h4.2zM1074.47 164.57l-2.1 -3.4h4.2zM1074.65 164.48l-2.1 -3.4h4.2zM1074.83 164.39l-2.1 -3.4h4.2zM1075.01 164.3l-2.1 -3.4h4.2zM1075.19 164.21l-2.1 -3.4h4.2zM1075.37 164.12l-2.1 -3.4h4.2zM1075.54 164.03l-2.1 -3.4h4.2zM1075.72 163.95l-2.1 -3.4h4.2zM1075.89 163.86l-2.1 -3.4h4.2zM1076.06 163.77l-2.1 -3.4h4.2zM1076.23 163.69l-2.1 -3.4h4.2zM1076.4 163.6l-2.1 -3.4h4.2zM1076.57 163.52l-2.1 -3.4h4.2zM1076.73 163.43l-2.1 -3.4h4.2zM1076.9 163.35l-2.1 -3.4h4.2zM1077.06 163.27l-2.1 -3.4h4.2zM1077.22 163.19l-2.1 -3.4h4.2zM1077.39 163.1l-2.1 -3.4h4.2zM1077.55 163.02l-2.1 -3.4h4.2zM1077.7 162.94l-2.1 -3.4h4.2zM1077.86 162.86l-2.1 -3.4h4.2zM1078.02 162.78l-2.1 -3.4h4.2zM1078.18 162.71l-2.1 -3.4h4.2zM1078.33 162.63l-2.1 -3.4h4.2zM1078.48 162.55l-2.1 -3.4h4.2zM1078.64 162.47l-2.1 -3.4h4.2zM1078.79 162.4l-2.1 -3.4h4.2zM1078.94 162.32l-2.1 -3.4h4.2zM1079.09 162.24l-2.1 -3.4h4.2zM1079.24 162.17l-2.1 -3.4h4.2zM1079.39 162.09l-2.1 -3.4h4.2zM1079.53 162.02l-2.1 -3.4h4.2zM1079.68 161.95l-2.1 -3.4h4.2zM1079.82 161.87l-2.1 -3.4h4.2zM1079.97 161.8l-2.1 -3.4h4.2zM1080.11 161.72l-2.1 -3.4h4.2z" fill="none" stroke="#ff00ff" stroke-width="0.7"/>
<path d="M999.96 213.9L1307.69 47.77" stroke="#000" stroke-width="1.3" fill="none" stroke-dasharray="4.4 6.8"/>
<path d="M1034.8 213.9v-7.5M1034.8 28.9v7.5M1187.3 213.9v-7.5M1187.3 28.9v7.5M1052.3 213.9v-3.75M1052.3 28.9v3.75M1069.8 213.9v-3.75M1069.8 28.9v3.75M1087.3 213.9v-3.75M1087.3 28.9v3.75M1104.8 213.9v-3.75M1104.8 28.9v3.75M1122.3 213.9v-3.75M1122.3 28.9v3.75M1139.8 213.9v-3.75M1139.8 28.9v3.75M1157.3 213.9v-3.75M1157.3 28.9v3.75M1174.8 213.9v-3.75M1174.8 28.9v3.75M1204.8 213.9v-3.75M1204.8 28.9v3.75M1222.3 213.9v-3.75M1222.3 28.9v3.75M1239.8 213.9v-3.75M1239.8 28.9v3.75M1257.3 213.9v-3.75M1257.3 28.9v3.75M980 176.9h7.5M1312.2 176.9h-7.5M980 139.9h7.5M1312.2 139.9h-7.5M980 102.9h7.5M1312.2 102.9h-7.5M980 65.9h7.5M1312.2 65.9h-7.5" stroke="#1e1e1e" stroke-width="1.5" fill="none"/>
<rect x="980" y="28.9" width="332.2" height="185" fill="none" stroke="#1e1e1e" stroke-width="1.5"/>
<text transform="translate(1000 250.7)" font-family="'Liberation Serif', 'DejaVu Serif', serif" font-size="27"><tspan x="13.48" y="-12.1" font-size="19.6" font-style="italic" textLength="11.75" lengthAdjust="spacingAndGlyphs">β</tspan><tspan x="24.95" y="-17.1" font-size="14.2" textLength="7.87" lengthAdjust="spacingAndGlyphs">3</tspan><tspan x="12.89" y="9.6" font-size="19.6" font-style="italic" textLength="10.34" lengthAdjust="spacingAndGlyphs">π</tspan><tspan x="24.41" y="7.3" font-size="14.2" textLength="8.23" lengthAdjust="spacingAndGlyphs">3</tspan><tspan x="40.14" y="0" textLength="47.34" lengthAdjust="spacingAndGlyphs">sinh</tspan><tspan x="87.78" y="-11.5" font-size="17" textLength="9.35" lengthAdjust="spacingAndGlyphs">2</tspan><tspan x="106.56" y="5.8" font-size="53.4" textLength="12.45" lengthAdjust="spacingAndGlyphs">(</tspan><tspan x="122.2" y="-10.5" font-size="19.6" font-style="italic" textLength="9.27" lengthAdjust="spacingAndGlyphs">π</tspan><tspan x="132.51" y="-10.5" font-size="19.6" font-style="italic" textLength="7.99" lengthAdjust="spacingAndGlyphs">ℓ</tspan><tspan x="126.62" y="8" font-size="19.6" font-style="italic" textLength="9.81" lengthAdjust="spacingAndGlyphs">β</tspan><tspan x="143.8" y="5.8" font-size="53.4" textLength="12.45" lengthAdjust="spacingAndGlyphs">)</tspan><tspan x="163.54" y="0" textLength="47.34" lengthAdjust="spacingAndGlyphs">sinh</tspan><tspan x="219.36" y="5.8" font-size="53.4" textLength="12.45" lengthAdjust="spacingAndGlyphs">(</tspan><tspan x="234.16" y="-10.5" font-size="18.5" textLength="10.73" lengthAdjust="spacingAndGlyphs">2</tspan><tspan x="244.61" y="-10.5" font-size="19.6" font-style="italic" textLength="8.79" lengthAdjust="spacingAndGlyphs">π</tspan><tspan x="254.91" y="-10.5" font-size="19.6" font-style="italic" textLength="7.99" lengthAdjust="spacingAndGlyphs">ℓ</tspan><tspan x="244.02" y="8" font-size="19.6" font-style="italic" textLength="9.81" lengthAdjust="spacingAndGlyphs">β</tspan><tspan x="265.6" y="5.8" font-size="53.4" textLength="12.45" lengthAdjust="spacingAndGlyphs">)</tspan></text>
<path d="M1012.1 244L1033.2 244" stroke="#000" stroke-width="1.45" fill="none"/>
<path d="M1121.8 244L1140.9 244" stroke="#000" stroke-width="1.45" fill="none"/>
<path d="M1234.6 244L1263.6 244" stroke="#000" stroke-width="1.45" fill="none"/>
</svg>
</body>
</html>
